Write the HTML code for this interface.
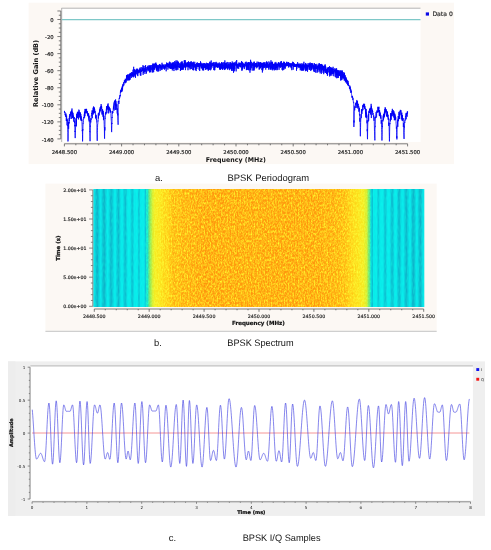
<!DOCTYPE html>
<html lang="en"><head><meta charset="utf-8"><title>BPSK plots</title>
<style>html,body{margin:0;padding:0;background:#fff}svg{display:block}</style></head>
<body>
<svg width="491" height="550" viewBox="0 0 491 550" text-rendering="geometricPrecision">
<rect x="28.6" y="2.7" width="425.4" height="161.4" fill="#fcf8f4"/>
<rect x="62" y="8.5" width="358.5" height="133.5" fill="#ffffff"/>
<path d="M61.5 8.2H420.5M61.7 8V142" stroke="#b4b4b4" stroke-width="1" fill="none"/>
<path d="M62 19.6H420.5" stroke="#7ec8c8" stroke-width="1.1"/>
<path d="M60.8 10.97V138.92M60.8 10.97h-3.4M60.8 15.23h-2M60.8 19.5h-3.4M60.8 23.77h-2M60.8 28.03h-2M60.8 32.3h-2M60.8 36.56h-3.4M60.8 40.83h-2M60.8 45.09h-2M60.8 49.36h-2M60.8 53.62h-3.4M60.8 57.88h-2M60.8 62.15h-2M60.8 66.41h-2M60.8 70.68h-3.4M60.8 74.94h-2M60.8 79.21h-2M60.8 83.47h-2M60.8 87.74h-3.4M60.8 92h-2M60.8 96.27h-2M60.8 100.53h-2M60.8 104.8h-3.4M60.8 109.06h-2M60.8 113.33h-2M60.8 117.59h-2M60.8 121.86h-3.4M60.8 126.12h-2M60.8 130.39h-2M60.8 134.66h-2M60.8 138.92h-3.4" stroke="#5a5a5a" stroke-width="0.8" fill="none"/>
<text x="53.7" y="22.1" font-family='"DejaVu Sans","Liberation Sans",sans-serif' font-size="5.3" text-anchor="end" fill="#2a2a2a" stroke="#2a2a2a" stroke-width="0.18">0</text>
<text x="53.7" y="39.16" font-family='"DejaVu Sans","Liberation Sans",sans-serif' font-size="5.3" text-anchor="end" fill="#2a2a2a" stroke="#2a2a2a" stroke-width="0.18">-20</text>
<text x="53.7" y="56.22" font-family='"DejaVu Sans","Liberation Sans",sans-serif' font-size="5.3" text-anchor="end" fill="#2a2a2a" stroke="#2a2a2a" stroke-width="0.18">-40</text>
<text x="53.7" y="73.28" font-family='"DejaVu Sans","Liberation Sans",sans-serif' font-size="5.3" text-anchor="end" fill="#2a2a2a" stroke="#2a2a2a" stroke-width="0.18">-60</text>
<text x="53.7" y="90.34" font-family='"DejaVu Sans","Liberation Sans",sans-serif' font-size="5.3" text-anchor="end" fill="#2a2a2a" stroke="#2a2a2a" stroke-width="0.18">-80</text>
<text x="53.7" y="107.4" font-family='"DejaVu Sans","Liberation Sans",sans-serif' font-size="5.3" text-anchor="end" fill="#2a2a2a" stroke="#2a2a2a" stroke-width="0.18">-100</text>
<text x="53.7" y="124.46" font-family='"DejaVu Sans","Liberation Sans",sans-serif' font-size="5.3" text-anchor="end" fill="#2a2a2a" stroke="#2a2a2a" stroke-width="0.18">-120</text>
<text x="53.7" y="141.52" font-family='"DejaVu Sans","Liberation Sans",sans-serif' font-size="5.3" text-anchor="end" fill="#2a2a2a" stroke="#2a2a2a" stroke-width="0.18">-140</text>
<path d="M64.4 143.8H407.6M64.4 143.8v2.6M75.84 143.8v1.5M87.28 143.8v1.5M98.72 143.8v1.5M110.16 143.8v1.5M121.6 143.8v2.6M133.04 143.8v1.5M144.48 143.8v1.5M155.92 143.8v1.5M167.36 143.8v1.5M178.8 143.8v2.6M190.24 143.8v1.5M201.68 143.8v1.5M213.12 143.8v1.5M224.56 143.8v1.5M236 143.8v2.6M247.44 143.8v1.5M258.88 143.8v1.5M270.32 143.8v1.5M281.76 143.8v1.5M293.2 143.8v2.6M304.64 143.8v1.5M316.08 143.8v1.5M327.52 143.8v1.5M338.96 143.8v1.5M350.4 143.8v2.6M361.84 143.8v1.5M373.28 143.8v1.5M384.72 143.8v1.5M396.16 143.8v1.5M407.6 143.8v2.6" stroke="#5a5a5a" stroke-width="0.8" fill="none"/>
<text x="64.4" y="154.4" font-family='"DejaVu Sans","Liberation Sans",sans-serif' font-size="5.3" text-anchor="middle" fill="#2a2a2a" stroke="#2a2a2a" stroke-width="0.18">2448.500</text>
<text x="121.6" y="154.4" font-family='"DejaVu Sans","Liberation Sans",sans-serif' font-size="5.3" text-anchor="middle" fill="#2a2a2a" stroke="#2a2a2a" stroke-width="0.18">2449.000</text>
<text x="178.8" y="154.4" font-family='"DejaVu Sans","Liberation Sans",sans-serif' font-size="5.3" text-anchor="middle" fill="#2a2a2a" stroke="#2a2a2a" stroke-width="0.18">2449.500</text>
<text x="236" y="154.4" font-family='"DejaVu Sans","Liberation Sans",sans-serif' font-size="5.3" text-anchor="middle" fill="#2a2a2a" stroke="#2a2a2a" stroke-width="0.18">2450.000</text>
<text x="293.2" y="154.4" font-family='"DejaVu Sans","Liberation Sans",sans-serif' font-size="5.3" text-anchor="middle" fill="#2a2a2a" stroke="#2a2a2a" stroke-width="0.18">2450.500</text>
<text x="350.4" y="154.4" font-family='"DejaVu Sans","Liberation Sans",sans-serif' font-size="5.3" text-anchor="middle" fill="#2a2a2a" stroke="#2a2a2a" stroke-width="0.18">2451.000</text>
<text x="407.6" y="154.4" font-family='"DejaVu Sans","Liberation Sans",sans-serif' font-size="5.3" text-anchor="middle" fill="#2a2a2a" stroke="#2a2a2a" stroke-width="0.18">2451.500</text>
<text x="235.8" y="162.4" font-family='"DejaVu Sans","Liberation Sans",sans-serif' font-size="6.5" text-anchor="middle" font-weight="bold" fill="#151515" textLength="60" lengthAdjust="spacingAndGlyphs">Frequency (MHz)</text>
<text x="38.4" y="73.4" font-family='"DejaVu Sans","Liberation Sans",sans-serif' font-size="6.6" text-anchor="middle" font-weight="bold" fill="#151515" transform="rotate(-90 38.4 73.4)" textLength="67" lengthAdjust="spacingAndGlyphs">Relative Gain (dB)</text>
<rect x="425.8" y="12.4" width="3.2" height="3.2" fill="#0a0ae6"/>
<text x="432.4" y="16.2" font-family='"DejaVu Sans","Liberation Sans",sans-serif' font-size="6.1" text-anchor="start" fill="#2a2a2a" stroke="#2a2a2a" stroke-width="0.18">Data 0</text>
<polyline fill="none" stroke="#0000f8" stroke-width="0.8" stroke-linejoin="round" points="64.4,112.4 64.5,110.92 64.6,112.4 64.7,113.1 64.8,113.04 64.9,112.01 65.01,112.48 65.11,114.84 65.21,114.17 65.31,114.87 65.41,115.73 65.51,113.71 65.61,116.18 65.71,117.03 65.81,116 65.91,114.97 66.02,113.58 66.12,115.74 66.22,117.56 66.32,120.96 66.42,118.51 66.52,117.16 66.62,115.52 66.72,119.32 66.82,118.75 66.92,120.75 67.03,118.87 67.13,125.04 67.23,119.83 67.33,125.93 67.43,125.17 67.53,125.2 67.63,125.86 67.73,129.71 67.83,132.74 67.93,141.4 68.03,141.4 68.14,139.93 68.24,133.2 68.34,125.33 68.44,125.2 68.54,122.47 68.64,128.83 68.74,122.06 68.84,123.49 68.94,121.53 69.04,123.36 69.15,118.09 69.25,121.09 69.35,117.04 69.45,116.1 69.55,117.42 69.65,114.14 69.75,114.85 69.85,115.67 69.95,118.93 70.05,115.74 70.16,114.89 70.26,114.4 70.36,116.35 70.46,112.3 70.56,114.95 70.66,113.77 70.76,114.74 70.86,112.59 70.96,111.36 71.06,113.03 71.17,112.48 71.27,111.58 71.37,111.45 71.47,111.38 71.57,110.47 71.67,118.89 71.77,112.56 71.87,113.59 71.97,108.49 72.07,112.77 72.17,111.75 72.28,111.66 72.38,113.55 72.48,114.02 72.58,118.03 72.68,112.33 72.78,114.76 72.88,117.58 72.98,113.19 73.08,114.6 73.18,117.14 73.29,115.98 73.39,115.7 73.49,116.08 73.59,116.68 73.69,119.1 73.79,121.72 73.89,117.55 73.99,117.24 74.09,119.01 74.19,117.24 74.3,119.69 74.4,121.31 74.5,123.11 74.6,120.99 74.7,126.28 74.8,124.84 74.9,131.84 75,130.9 75.1,135.65 75.2,138.1 75.3,133.94 75.41,132.19 75.51,130.12 75.61,124.87 75.71,125.9 75.81,122.69 75.91,122.2 76.01,118.44 76.11,120.68 76.21,124.39 76.31,118.42 76.42,126.39 76.52,116.01 76.62,116.14 76.72,117.52 76.82,114.09 76.92,118.11 77.02,113.57 77.12,116.81 77.22,118.06 77.32,112.62 77.43,113.3 77.53,112.99 77.63,112.04 77.73,113.11 77.83,117.3 77.93,112.73 78.03,112.1 78.13,111.46 78.23,115.1 78.33,111.98 78.43,119.4 78.54,113.84 78.64,113.99 78.74,114.85 78.84,109.64 78.94,110.13 79.04,110.96 79.14,111.25 79.24,110.94 79.34,110.66 79.44,117.48 79.55,112.83 79.65,113.67 79.75,113.08 79.85,112 79.95,114.28 80.05,112.43 80.15,114.35 80.25,115.25 80.35,113.19 80.45,119.52 80.56,114.66 80.66,114.92 80.76,115.51 80.86,114.2 80.96,116.96 81.06,116.51 81.16,120.92 81.26,116.49 81.36,120.19 81.46,119.37 81.57,120.92 81.67,118.7 81.77,120.81 81.87,119.67 81.97,122.04 82.07,124.94 82.17,126.89 82.27,131.1 82.37,130.05 82.47,134.41 82.57,141.4 82.68,138.36 82.78,129.11 82.88,130.47 82.98,126.04 83.08,123.25 83.18,123.78 83.28,121.93 83.38,122.09 83.48,120.71 83.58,118.47 83.69,117.01 83.79,117.37 83.89,118.43 83.99,118.53 84.09,116.01 84.19,114.59 84.29,115.18 84.39,114.84 84.49,111.59 84.59,117.61 84.7,112.79 84.8,115.15 84.9,116.05 85,108.95 85.1,112.95 85.2,113.11 85.3,112.38 85.4,113.07 85.5,109.05 85.6,111.87 85.7,112.92 85.81,113.25 85.91,113.01 86.01,111.56 86.11,109.35 86.21,108.79 86.31,112.82 86.41,109.24 86.51,110 86.61,109.25 86.71,112.52 86.82,113.13 86.92,112.47 87.02,110.96 87.12,111.29 87.22,111.15 87.32,114.12 87.42,112.62 87.52,111.59 87.62,115.29 87.72,113.56 87.83,116.11 87.93,116.21 88.03,115 88.13,113.86 88.23,115.95 88.33,116.52 88.43,113.43 88.53,116.51 88.63,113.66 88.73,118.41 88.83,115.67 88.94,120.34 89.04,118.55 89.14,115.82 89.24,121.55 89.34,119.85 89.44,123.84 89.54,123.84 89.64,127.15 89.74,132.1 89.84,131.41 89.95,136.28 90.05,141.19 90.15,133.06 90.25,132.95 90.35,126.15 90.45,126.67 90.55,124.22 90.65,119.71 90.75,122.46 90.85,118.16 90.96,118.02 91.06,120.01 91.16,119.14 91.26,115.97 91.36,115.21 91.46,115.63 91.56,115.69 91.66,112.92 91.76,114.17 91.86,113.74 91.97,113.58 92.07,110.4 92.17,112.37 92.27,116.87 92.37,118.21 92.47,113.34 92.57,112.29 92.67,110.57 92.77,112.09 92.87,111.7 92.97,112.61 93.08,112.34 93.18,107.66 93.28,114.51 93.38,108.06 93.48,109.98 93.58,106.44 93.68,112.99 93.78,111.64 93.88,109.08 93.98,113.46 94.09,107.18 94.19,109.15 94.29,111.68 94.39,107.91 94.49,112.44 94.59,110.21 94.69,109.43 94.79,109.7 94.89,111.85 94.99,112.85 95.1,111.03 95.2,111.46 95.3,112.44 95.4,112.51 95.5,113.03 95.6,118.51 95.7,115.64 95.8,115.45 95.9,114.72 96,116.05 96.1,117.82 96.21,115.36 96.31,116.52 96.41,119.74 96.51,118.71 96.61,122.66 96.71,123.38 96.81,123.57 96.91,124.43 97.01,133.49 97.11,134.73 97.22,140.8 97.32,132.59 97.42,130.57 97.52,127.59 97.62,125.08 97.72,123.8 97.82,123.56 97.92,120.6 98.02,121.32 98.12,120.66 98.23,115.47 98.33,113.27 98.43,118.51 98.53,116.74 98.63,114.58 98.73,113.99 98.83,112.74 98.93,112.63 99.03,113.1 99.13,113.98 99.23,114.65 99.34,115.38 99.44,111.65 99.54,109.42 99.64,112.73 99.74,112.73 99.84,110.75 99.94,111.61 100.04,108.65 100.14,109.67 100.24,107.11 100.35,108.63 100.45,107.86 100.55,110.82 100.65,111.02 100.75,106.44 100.85,106.29 100.95,107.8 101.05,105.36 101.15,104.08 101.25,108.78 101.36,108.05 101.46,108.71 101.56,105.83 101.66,107 101.76,107.17 101.86,111.27 101.96,114.53 102.06,109.32 102.16,109.16 102.26,110.07 102.37,113.06 102.47,112.26 102.57,109.44 102.67,112.43 102.77,113.63 102.87,110.85 102.97,116.75 103.07,110.83 103.17,114.64 103.27,112.81 103.37,114.33 103.48,120.12 103.58,114.85 103.68,118.95 103.78,117.25 103.88,115.85 103.98,118.38 104.08,121.1 104.18,124.25 104.28,127.3 104.38,128.3 104.49,136.86 104.59,138.66 104.69,129.51 104.79,127.12 104.89,130.48 104.99,120.92 105.09,118.37 105.19,118.36 105.29,118.86 105.39,113.38 105.5,114.54 105.6,112.25 105.7,112.49 105.8,112.34 105.9,111.96 106,114.31 106.1,111.87 106.2,111.98 106.3,109.68 106.4,110.2 106.5,106.13 106.61,109.87 106.71,108.15 106.81,111.43 106.91,113.19 107.01,110.04 107.11,108.91 107.21,106.47 107.31,107.4 107.41,108.56 107.51,104.6 107.62,104.9 107.72,107.37 107.82,107.68 107.92,106.14 108.02,109.63 108.12,103.43 108.22,109.61 108.32,106.58 108.42,106.07 108.52,109.36 108.63,113.38 108.73,109.38 108.83,107.14 108.93,106.74 109.03,106.65 109.13,107.61 109.23,109.95 109.33,107.87 109.43,107.26 109.53,108.7 109.63,109.58 109.74,110.56 109.84,110.02 109.94,108.17 110.04,109.93 110.14,109.87 110.24,112.55 110.34,109.89 110.44,111.77 110.54,110.75 110.64,112.28 110.75,111.09 110.85,111.94 110.95,113.69 111.05,116.94 111.15,118.04 111.25,120.55 111.35,121.48 111.45,125.47 111.55,131.27 111.65,132.11 111.76,128.76 111.86,123.01 111.96,123.94 112.06,117.05 112.16,117.99 112.26,114.56 112.36,111.03 112.46,113.4 112.56,113.14 112.66,112.27 112.77,113.08 112.87,111.95 112.97,112.18 113.07,111.36 113.17,111.14 113.27,108.25 113.37,108.3 113.47,106.33 113.57,109.17 113.67,106.77 113.77,104.86 113.88,104.72 113.98,105.35 114.08,102.42 114.18,110.51 114.28,105.41 114.38,101.36 114.48,100.71 114.58,102.15 114.68,101.57 114.78,101.84 114.89,101.03 114.99,102.55 115.09,100.84 115.19,100.48 115.29,104.57 115.39,100.62 115.49,109.95 115.59,99.41 115.69,106.13 115.79,102.83 115.9,102.42 116,101.24 116.1,103.6 116.2,103.43 116.3,105.23 116.4,106 116.5,105.27 116.6,105.68 116.7,109.69 116.8,103.86 116.9,104.32 117.01,104.77 117.11,107.5 117.21,113.55 117.31,108.47 117.41,110.51 117.51,112.11 117.61,112.82 117.71,115.39 117.81,113.42 117.91,120.5 118.02,122.34 118.12,124.75 118.22,101.46 118.32,102.26 118.42,101.38 118.52,101.29 118.62,101.3 118.72,101.82 118.82,100.91 118.92,103.97 119.03,99.19 119.13,98.44 119.23,98.32 119.33,97.88 119.43,99 119.53,98.77 119.63,96.53 119.73,97.53 119.83,97.33 119.93,95.51 120.03,96.12 120.14,95.04 120.24,96.21 120.34,92.84 120.44,91.47 120.54,92.41 120.64,90.19 120.74,92.57 120.84,90.86 120.94,91.39 121.04,91.87 121.15,89.45 121.25,91.75 121.35,91.63 121.45,89.3 121.55,88.02 121.65,91.14 121.75,91.11 121.85,89.52 121.95,89.01 122.05,87.3 122.16,91.48 122.26,86.44 122.36,87.4 122.46,85.83 122.56,89.6 122.66,85.46 122.76,87.17 122.86,84.29 122.96,83.94 123.06,85.14 123.17,86.04 123.27,85.18 123.37,84.94 123.47,83.2 123.57,83.35 123.67,82.26 123.77,83.28 123.87,85.38 123.97,84.63 124.07,82.69 124.17,82.12 124.28,82.6 124.38,80.31 124.48,82.1 124.58,81.4 124.68,81.8 124.78,82.04 124.88,82.48 124.98,80.38 125.08,81.33 125.18,81.93 125.29,78.77 125.39,83.23 125.49,82.47 125.59,79.42 125.69,80.35 125.79,79.26 125.89,79.97 125.99,79.23 126.09,79.99 126.19,82.47 126.3,78.85 126.4,79.18 126.5,75.27 126.6,78.94 126.7,75.73 126.8,79.06 126.9,79.5 127,75.42 127.1,80.77 127.2,80.34 127.3,78.68 127.41,74.64 127.51,75.93 127.61,77.13 127.71,74.73 127.81,79.33 127.91,80.07 128.01,78.12 128.11,76.94 128.21,76.23 128.31,77.29 128.42,80.31 128.52,78.16 128.62,80.17 128.72,74.46 128.82,77.43 128.92,75.72 129.02,78.55 129.12,80 129.22,74.61 129.32,73.99 129.43,80.33 129.53,76.31 129.63,75.51 129.73,73.63 129.83,76.17 129.93,76.45 130.03,74.03 130.13,75.49 130.23,79.65 130.33,72.87 130.43,75.44 130.54,74.92 130.64,74.13 130.74,75.13 130.84,73.48 130.94,74.39 131.04,74.24 131.14,73.99 131.24,74.33 131.34,78.01 131.44,77.32 131.55,72.16 131.65,73.09 131.75,73.58 131.85,75.87 131.95,74.28 132.05,74.25 132.15,73.99 132.25,72.33 132.35,72.19 132.45,76.62 132.56,72.69 132.66,75.31 132.76,74.46 132.86,76.2 132.96,75.11 133.06,69.66 133.16,73.41 133.26,77.36 133.36,74.67 133.46,70.61 133.57,68.77 133.67,66.79 133.77,74.9 133.87,76.76 133.97,73.61 134.07,74.89 134.17,73.16 134.27,75.15 134.37,74.62 134.47,72.95 134.57,69.73 134.68,72.34 134.78,68.96 134.88,76.35 134.98,74.92 135.08,72.19 135.18,70.63 135.28,71.22 135.38,71.89 135.48,77.88 135.58,71.7 135.69,73.69 135.79,70.08 135.89,71.07 135.99,73.91 136.09,73.3 136.19,74.26 136.29,72.4 136.39,70.79 136.49,69.75 136.59,72.6 136.7,68.68 136.8,69.64 136.9,71.58 137,69.34 137.1,71.36 137.2,69.69 137.3,75.24 137.4,73.6 137.5,68.76 137.6,71.31 137.7,70.96 137.81,76.13 137.91,73.72 138.01,71.43 138.11,71.4 138.21,71.06 138.31,70.79 138.41,70.1 138.51,70.39 138.61,73.26 138.71,71.34 138.82,72.45 138.92,69.97 139.02,71.18 139.12,69.12 139.22,68.85 139.32,69.95 139.42,69.63 139.52,72.57 139.62,70.79 139.72,70.86 139.83,67.78 139.93,67.7 140.03,70.05 140.13,70.82 140.23,73.95 140.33,75.43 140.43,70.68 140.53,71.37 140.63,68.67 140.73,70.58 140.83,75.76 140.94,72.61 141.04,70.21 141.14,67.04 141.24,69.95 141.34,71.19 141.44,70.39 141.54,70.59 141.64,71.96 141.74,71.06 141.84,69.89 141.95,70.73 142.05,70.87 142.15,68.6 142.25,67.63 142.35,70.92 142.45,68.9 142.55,68.02 142.65,70.01 142.75,69.23 142.85,70.83 142.96,65.19 143.06,68.17 143.16,74.85 143.26,68.73 143.36,71.14 143.46,73.01 143.56,72.17 143.66,70.45 143.76,68.36 143.86,65.87 143.97,70.19 144.07,69.25 144.17,69.85 144.27,68.04 144.37,70.79 144.47,69.72 144.57,70.14 144.67,72.15 144.77,70.09 144.87,70.88 144.97,73.98 145.08,69.44 145.18,66.05 145.28,69.96 145.38,68.3 145.48,71.57 145.58,65.07 145.68,67.46 145.78,67.14 145.88,68.07 145.98,69.24 146.09,70.32 146.19,69.66 146.29,69.93 146.39,69.11 146.49,73.6 146.59,70.16 146.69,67.52 146.79,67.39 146.89,67.09 146.99,68.29 147.1,68.26 147.2,69.47 147.3,67.48 147.4,68.3 147.5,67.77 147.6,69.24 147.7,66.2 147.8,69.14 147.9,71.33 148,69.26 148.1,69.53 148.21,65.43 148.31,70.15 148.41,68.16 148.51,67.3 148.61,69.62 148.71,68.6 148.81,68.55 148.91,68.12 149.01,71.03 149.11,67.81 149.22,65.65 149.32,68.51 149.42,68.17 149.52,72.27 149.62,67.02 149.72,72.29 149.82,65.32 149.92,71.59 150.02,66.27 150.12,66.65 150.23,66.46 150.33,65.2 150.43,70.7 150.53,72.23 150.63,67.39 150.73,67.57 150.83,66.44 150.93,68.32 151.03,69.37 151.13,67.93 151.23,66.87 151.34,66.14 151.44,65.2 151.54,65.95 151.64,65.77 151.74,69.73 151.84,69.93 151.94,67.62 152.04,67.46 152.14,72.38 152.24,68.4 152.35,70.86 152.45,64.56 152.55,69.4 152.65,67.1 152.75,69.36 152.85,72.47 152.95,63.45 153.05,67.34 153.15,68.52 153.25,64.4 153.36,67.17 153.46,66.21 153.56,63.82 153.66,72.12 153.76,65.22 153.86,68.82 153.96,66.86 154.06,66.46 154.16,67.22 154.26,69.48 154.37,66.91 154.47,69.61 154.57,64.09 154.67,68.93 154.77,67.53 154.87,66.17 154.97,63.59 155.07,66.91 155.17,66.91 155.27,62.97 155.37,64.23 155.48,63.26 155.58,63.3 155.68,67.82 155.78,63.77 155.88,62.57 155.98,64.61 156.08,64.45 156.18,68.08 156.28,69.75 156.38,63.87 156.49,70.73 156.59,64.15 156.69,65.85 156.79,65.47 156.89,66.81 156.99,65.01 157.09,70.24 157.19,65.94 157.29,71.57 157.39,69.23 157.5,65.91 157.6,65.75 157.7,68.95 157.8,65.66 157.9,68.29 158,66.19 158.1,66.5 158.2,68.22 158.3,64.96 158.4,71.35 158.5,67.81 158.61,69.54 158.71,67.34 158.81,71.3 158.91,67.59 159.01,66.99 159.11,67.12 159.21,65.53 159.31,67.37 159.41,63.97 159.51,66.81 159.62,64.87 159.72,66.9 159.82,68.36 159.92,65.39 160.02,64.42 160.12,67.6 160.22,70.84 160.32,65.73 160.42,66.24 160.52,66.29 160.63,64.83 160.73,67.24 160.83,66.57 160.93,65.52 161.03,68.33 161.13,67.06 161.23,68.77 161.33,65.66 161.43,67.71 161.53,67.39 161.63,67.68 161.74,70.08 161.84,67.19 161.94,62.86 162.04,62.75 162.14,65.81 162.24,69.46 162.34,68.58 162.44,64.68 162.54,66.16 162.64,65.39 162.75,67.34 162.85,65.87 162.95,64.46 163.05,65.26 163.15,67.27 163.25,65.45 163.35,66.56 163.45,65.94 163.55,65.47 163.65,67.83 163.76,68.83 163.86,66.35 163.96,64.51 164.06,66.21 164.16,68.29 164.26,65.92 164.36,67.11 164.46,69.7 164.56,68 164.66,66.26 164.77,66.3 164.87,68.35 164.97,65.18 165.07,64.38 165.17,65.59 165.27,66.83 165.37,65.47 165.47,64.9 165.57,65.15 165.67,66.77 165.77,68.56 165.88,64.58 165.98,64.84 166.08,67.3 166.18,71.31 166.28,68.1 166.38,65.15 166.48,65.35 166.58,66.15 166.68,62.48 166.78,66 166.89,63.44 166.99,63.56 167.09,65.22 167.19,66.78 167.29,63.71 167.39,65.16 167.49,65.14 167.59,63.47 167.69,66.93 167.79,63.62 167.9,69.64 168,67.95 168.1,63.76 168.2,67.09 168.3,64.2 168.4,66.36 168.5,65.62 168.6,65.34 168.7,64.87 168.8,67.54 168.9,66.45 169.01,62.55 169.11,65.75 169.21,68.08 169.31,67.36 169.41,65.14 169.51,63.19 169.61,61.61 169.71,67.57 169.81,66.14 169.91,62.77 170.02,65.64 170.12,68.64 170.22,67.52 170.32,68.67 170.42,67.61 170.52,66.93 170.62,67.17 170.72,62.38 170.82,68.12 170.92,68.93 171.03,64.65 171.13,64.3 171.23,65.93 171.33,67.86 171.43,67.27 171.53,63.87 171.63,68.37 171.73,65.1 171.83,63.53 171.93,69.02 172.03,67.86 172.14,63.96 172.24,62.95 172.34,70.42 172.44,66.36 172.54,62.63 172.64,67.12 172.74,68.66 172.84,62.93 172.94,67.1 173.04,67.62 173.15,68.86 173.25,68.21 173.35,62.06 173.45,68.85 173.55,66.88 173.65,65.53 173.75,65.72 173.85,63.23 173.95,71.05 174.05,68.49 174.16,68.97 174.26,65.63 174.36,67.87 174.46,66.29 174.56,64.83 174.66,66.93 174.76,61.09 174.86,65.32 174.96,62.87 175.06,62.42 175.17,61.83 175.27,68.35 175.37,63.65 175.47,64.11 175.57,67.53 175.67,64.82 175.77,70.17 175.87,69.13 175.97,62.89 176.07,60.34 176.17,63.69 176.28,66.49 176.38,66.91 176.48,65.63 176.58,68.17 176.68,70.29 176.78,64.43 176.88,61.86 176.98,69.53 177.08,65.58 177.18,65.57 177.29,60.59 177.39,65.84 177.49,64.18 177.59,67.25 177.69,64.52 177.79,61.77 177.89,69.83 177.99,65.51 178.09,63.6 178.19,63.41 178.3,63.37 178.4,61.68 178.5,65.14 178.6,62.18 178.7,67.19 178.8,66.09 178.9,65.83 179,66.17 179.1,67.4 179.2,65.31 179.3,68.03 179.41,66.63 179.51,65.69 179.61,65.58 179.71,64.09 179.81,63.43 179.91,65.16 180.01,63.1 180.11,67.83 180.21,64.98 180.31,64.27 180.42,70.99 180.52,65.39 180.62,70.29 180.72,64.36 180.82,66.67 180.92,63.97 181.02,62.15 181.12,63.45 181.22,63.02 181.32,62.95 181.43,61.55 181.53,69.8 181.63,62.95 181.73,66.11 181.83,65.73 181.93,65.26 182.03,66.22 182.13,63.92 182.23,69.9 182.33,61.44 182.43,63.18 182.54,69.31 182.64,69.02 182.74,63.94 182.84,64.13 182.94,67.9 183.04,65.01 183.14,63.18 183.24,66.66 183.34,69.81 183.44,69.48 183.55,65.98 183.65,66.02 183.75,66.59 183.85,64.79 183.95,65.97 184.05,65.36 184.15,66.84 184.25,60.33 184.35,64.18 184.45,65.48 184.56,60.43 184.66,67.29 184.76,64.3 184.86,62.86 184.96,62.63 185.06,62.58 185.16,68.02 185.26,62.04 185.36,60.26 185.46,70.11 185.57,68.61 185.67,62.69 185.77,65.31 185.87,67.71 185.97,63.9 186.07,66.51 186.17,62.74 186.27,65.03 186.37,66.39 186.47,66.09 186.57,64.32 186.68,63.68 186.78,64.1 186.88,65.12 186.98,66.42 187.08,64.62 187.18,62.84 187.28,62.05 187.38,66.42 187.48,63.56 187.58,62.89 187.69,66.53 187.79,65.22 187.89,62.95 187.99,70.23 188.09,63.69 188.19,62.18 188.29,66.15 188.39,65.07 188.49,61.28 188.59,67.03 188.7,64.83 188.8,67.42 188.9,63.52 189,64.54 189.1,66.25 189.2,64.6 189.3,64.39 189.4,65.86 189.5,65.21 189.6,67.61 189.7,64.48 189.81,62.07 189.91,62.64 190.01,69.49 190.11,61.94 190.21,63.31 190.31,65.07 190.41,62.51 190.51,65.15 190.61,63.67 190.71,66.53 190.82,61.51 190.92,69.08 191.02,63.2 191.12,65.56 191.22,67.61 191.32,68.89 191.42,61.44 191.52,65.49 191.62,64.71 191.72,64.51 191.83,66.1 191.93,63.82 192.03,64.85 192.13,63.7 192.23,66.36 192.33,65.63 192.43,65.72 192.53,62.42 192.63,64.64 192.73,69.98 192.83,69 192.94,63.36 193.04,66.43 193.14,62.48 193.24,70.29 193.34,68.36 193.44,61.76 193.54,64.55 193.64,63.71 193.74,70.18 193.84,66.39 193.95,64.41 194.05,65.72 194.15,63.69 194.25,65.02 194.35,64.11 194.45,67.32 194.55,64.34 194.65,67.31 194.75,61.8 194.85,64.89 194.96,64.85 195.06,63.97 195.16,67.02 195.26,65.57 195.36,64.27 195.46,70.13 195.56,65.11 195.66,68.59 195.76,64.96 195.86,65.6 195.97,64.68 196.07,65.37 196.17,71.06 196.27,65.58 196.37,66.81 196.47,65.31 196.57,65.33 196.67,63.01 196.77,64.69 196.87,68.89 196.97,63.33 197.08,64.6 197.18,63.49 197.28,62.3 197.38,65.16 197.48,65.95 197.58,66.18 197.68,64.65 197.78,66.95 197.88,63.98 197.98,66.79 198.09,64.02 198.19,63.29 198.29,66.81 198.39,65.66 198.49,63.9 198.59,66.2 198.69,63.14 198.79,65.84 198.89,66.93 198.99,63.8 199.1,69.82 199.2,63.62 199.3,65.98 199.4,64.95 199.5,68.02 199.6,65.33 199.7,71.03 199.8,63.04 199.9,66.89 200,66.16 200.1,63.56 200.21,65.69 200.31,64.26 200.41,66.21 200.51,61.27 200.61,65.71 200.71,63.96 200.81,64.67 200.91,63.4 201.01,62.61 201.11,63.32 201.22,68.33 201.32,65.07 201.42,68.31 201.52,65.45 201.62,63.53 201.72,68.02 201.82,63.96 201.92,67.03 202.02,66.75 202.12,67.7 202.23,65.51 202.33,63.93 202.43,70.22 202.53,66.49 202.63,66.86 202.73,64.3 202.83,65.26 202.93,64.52 203.03,62.98 203.13,70.3 203.23,63.84 203.34,67.07 203.44,66.23 203.54,65.07 203.64,70.41 203.74,63.47 203.84,68.3 203.94,64.96 204.04,64.07 204.14,66.8 204.24,65.88 204.35,67.97 204.45,66.06 204.55,63.26 204.65,63.83 204.75,63.4 204.85,65.41 204.95,67.41 205.05,65.65 205.15,63.82 205.25,67.28 205.36,66.66 205.46,69.9 205.56,63.74 205.66,67.31 205.76,67.58 205.86,66.36 205.96,64.6 206.06,65.64 206.16,66.05 206.26,67.26 206.37,64.28 206.47,62.78 206.57,67.19 206.67,69.27 206.77,66.93 206.87,66.25 206.97,66.91 207.07,67.54 207.17,69.48 207.27,66.36 207.37,64.06 207.48,68.65 207.58,64.57 207.68,63.09 207.78,64.81 207.88,67.76 207.98,64.65 208.08,63.15 208.18,69.18 208.28,70.72 208.38,64.04 208.49,67.94 208.59,70.16 208.69,67.67 208.79,65.28 208.89,64.12 208.99,63.61 209.09,65.05 209.19,69.83 209.29,67.59 209.39,66.57 209.5,65.12 209.6,64.26 209.7,61.83 209.8,69.56 209.9,64.84 210,64.88 210.1,65.39 210.2,65.08 210.3,61.7 210.4,62.45 210.5,65.33 210.61,70.27 210.71,70.02 210.81,63.47 210.91,66.26 211.01,63.26 211.11,69.32 211.21,60.46 211.31,62.39 211.41,65.06 211.51,66.61 211.62,64.79 211.72,66.22 211.82,66.66 211.92,67 212.02,66.99 212.12,67.58 212.22,63.52 212.32,63.1 212.42,65.21 212.52,65.09 212.63,65.94 212.73,63 212.83,65 212.93,63.06 213.03,62.49 213.13,62.41 213.23,62.24 213.33,66.07 213.43,65.78 213.53,64.14 213.63,62.67 213.74,69.95 213.84,69.07 213.94,65.93 214.04,66.04 214.14,63.5 214.24,62.15 214.34,70.34 214.44,65.92 214.54,66.36 214.64,64.78 214.75,69.27 214.85,70.14 214.95,63.37 215.05,63.59 215.15,67.08 215.25,67.63 215.35,67.17 215.45,62.48 215.55,63.15 215.65,66.32 215.76,64.81 215.86,65.44 215.96,65.54 216.06,65.05 216.16,61.85 216.26,64.26 216.36,66.86 216.46,65.87 216.56,62.84 216.66,63.62 216.77,67.15 216.87,65.05 216.97,64.89 217.07,66.79 217.17,67.47 217.27,65.74 217.37,64.39 217.47,66.02 217.57,67.79 217.67,63.7 217.77,66 217.88,63.95 217.98,62.76 218.08,63.96 218.18,64.16 218.28,64.13 218.38,67.36 218.48,66.32 218.58,63.81 218.68,66.1 218.78,67.39 218.89,63.66 218.99,64.42 219.09,64.51 219.19,65.32 219.29,63.55 219.39,62.51 219.49,69.55 219.59,64.47 219.69,65.07 219.79,69.06 219.9,66 220,64.01 220.1,67.9 220.2,63.65 220.3,64.16 220.4,69.21 220.5,64.1 220.6,69.9 220.7,65.54 220.8,63.59 220.9,66.5 221.01,64.97 221.11,64.55 221.21,69.04 221.31,63.68 221.41,65.01 221.51,62.11 221.61,68.12 221.71,65.06 221.81,65.51 221.91,62.53 222.02,68.3 222.12,64.19 222.22,63.56 222.32,62.88 222.42,62.86 222.52,69.79 222.62,66.3 222.72,64.7 222.82,66.55 222.92,69.37 223.03,67.33 223.13,63.48 223.23,62.36 223.33,66.62 223.43,66.95 223.53,67 223.63,67.08 223.73,68.4 223.83,67.68 223.93,65 224.03,68.44 224.14,62.42 224.24,65.15 224.34,62.63 224.44,70.04 224.54,67.57 224.64,67.7 224.74,66.99 224.84,60.36 224.94,62.25 225.04,66.9 225.15,69.43 225.25,64.95 225.35,63.16 225.45,66.17 225.55,69.17 225.65,63.92 225.75,65.74 225.85,66.34 225.95,64.49 226.05,62.78 226.16,64.94 226.26,66.66 226.36,67.75 226.46,63.77 226.56,68.35 226.66,62.77 226.76,64.54 226.86,67.25 226.96,65.15 227.06,65.22 227.17,65.34 227.27,61.94 227.37,66.01 227.47,65.59 227.57,69.54 227.67,65.26 227.77,68.06 227.87,67.79 227.97,69.33 228.07,67.95 228.17,64.15 228.28,66.17 228.38,66.2 228.48,66.31 228.58,67.74 228.68,63.59 228.78,68.1 228.88,64.89 228.98,62.05 229.08,65.38 229.18,65.83 229.29,65.64 229.39,65.37 229.49,69.42 229.59,70.14 229.69,65.84 229.79,64.3 229.89,66.18 229.99,68.85 230.09,63.02 230.19,62.92 230.3,66.64 230.4,62.13 230.5,63.95 230.6,64.67 230.7,68.69 230.8,66.87 230.9,64.34 231,64.37 231.1,65.25 231.2,69.54 231.3,65.12 231.41,64.79 231.51,64.19 231.61,70.93 231.71,63.01 231.81,65.49 231.91,66.53 232.01,69.06 232.11,64.52 232.21,61.44 232.31,63.4 232.42,66.09 232.52,65.42 232.62,62.9 232.72,63.25 232.82,64.02 232.92,71 233.02,64.95 233.12,70.31 233.22,65.85 233.32,67.4 233.43,62.89 233.53,72.75 233.63,64.32 233.73,68.14 233.83,65.1 233.93,62.55 234.03,62.63 234.13,67.01 234.23,62.9 234.33,71.27 234.43,63.59 234.54,62.5 234.64,68.21 234.74,68.62 234.84,69.25 234.94,64.75 235.04,64.24 235.14,63.75 235.24,64.67 235.34,64.39 235.44,64.04 235.55,65.33 235.65,65.15 235.75,65.67 235.85,61.45 235.95,64.8 236.05,62.32 236.15,71.39 236.25,65.58 236.35,63.41 236.45,64.82 236.56,64.64 236.66,60 236.76,65.56 236.86,63.48 236.96,67.48 237.06,67.08 237.16,64.24 237.26,65.84 237.36,66.34 237.46,64.15 237.57,68.53 237.67,65.72 237.77,64.61 237.87,67.98 237.97,66.65 238.07,64.96 238.17,65.94 238.27,63.67 238.37,64.01 238.47,65.71 238.57,65.34 238.68,68.84 238.78,67.47 238.88,62.48 238.98,66.15 239.08,64.52 239.18,64.03 239.28,65.73 239.38,65.09 239.48,66.36 239.58,62.86 239.69,64.82 239.79,63.03 239.89,66.48 239.99,65.57 240.09,65.88 240.19,65.79 240.29,66.94 240.39,66.38 240.49,65.5 240.59,67.35 240.7,63.4 240.8,66.62 240.9,65.54 241,62.62 241.1,64.24 241.2,63.3 241.3,64.8 241.4,63.74 241.5,61.1 241.6,64.65 241.7,65.04 241.81,65.03 241.91,70.82 242.01,61.78 242.11,70.15 242.21,65.5 242.31,68.65 242.41,65.82 242.51,65.54 242.61,62.24 242.71,68.4 242.82,63.55 242.92,64.66 243.02,67.41 243.12,67.3 243.22,64.11 243.32,63.62 243.42,66.38 243.52,66.18 243.62,66.82 243.72,63.71 243.83,64.39 243.93,66.47 244.03,65.2 244.13,63.72 244.23,67.89 244.33,69.07 244.43,67.94 244.53,64.28 244.63,67.44 244.73,67.56 244.83,64.9 244.94,64.47 245.04,64.46 245.14,63.73 245.24,62.42 245.34,63.38 245.44,65.72 245.54,64.74 245.64,64.9 245.74,66.43 245.84,62.08 245.95,64.11 246.05,63.86 246.15,61.63 246.25,64.62 246.35,70.11 246.45,69.73 246.55,64.7 246.65,69.69 246.75,63.65 246.85,69.56 246.96,64.04 247.06,65.3 247.16,67.28 247.26,64.05 247.36,63.45 247.46,63.51 247.56,65.89 247.66,69.88 247.76,62.52 247.86,66.55 247.97,63.4 248.07,63.44 248.17,62.41 248.27,63.39 248.37,67.74 248.47,63.19 248.57,62 248.67,70.02 248.77,65.2 248.87,64.68 248.97,70.41 249.08,66.11 249.18,63.74 249.28,65.13 249.38,63.52 249.48,63.9 249.58,62.28 249.68,64.79 249.78,63.93 249.88,70.99 249.98,72.71 250.09,70.18 250.19,67.01 250.29,63.52 250.39,62.34 250.49,70.15 250.59,59.79 250.69,66.42 250.79,61.26 250.89,67.61 250.99,65.57 251.1,64.53 251.2,66.73 251.3,62.37 251.4,62.85 251.5,62.19 251.6,62.08 251.7,64.42 251.8,68.25 251.9,63.84 252,65.59 252.1,68.73 252.21,70.61 252.31,65.48 252.41,64.6 252.51,63.49 252.61,62.81 252.71,65.73 252.81,65.38 252.91,64.03 253.01,65.98 253.11,65.72 253.22,65.69 253.32,62.97 253.42,65.96 253.52,64.23 253.62,70.37 253.72,65.11 253.82,61.78 253.92,64.77 254.02,70.57 254.12,69.65 254.23,69.96 254.33,67.55 254.43,61.74 254.53,67.65 254.63,65.85 254.73,68.47 254.83,64.67 254.93,64.21 255.03,65.34 255.13,65.4 255.23,64.72 255.34,65.24 255.44,66.6 255.54,64.32 255.64,63.11 255.74,64.07 255.84,63.04 255.94,66.69 256.04,63.56 256.14,66.9 256.24,67.12 256.35,63.24 256.45,64.09 256.55,63.74 256.65,68.28 256.75,67.32 256.85,63.03 256.95,64.26 257.05,61.64 257.15,66.53 257.25,64.67 257.36,66.19 257.46,67.31 257.56,65 257.66,64.65 257.76,65.35 257.86,65.85 257.96,65.95 258.06,66.23 258.16,64.98 258.26,61.79 258.37,66.05 258.47,65.21 258.57,63.73 258.67,65.64 258.77,62.36 258.87,66.63 258.97,62.68 259.07,63.82 259.17,69.67 259.27,65.07 259.37,65.71 259.48,69.15 259.58,66 259.68,64.18 259.78,62.99 259.88,67.14 259.98,62.58 260.08,67.91 260.18,62.03 260.28,63.3 260.38,68.17 260.49,63.62 260.59,68.26 260.69,62.26 260.79,64.41 260.89,66.78 260.99,64.21 261.09,63.83 261.19,64.49 261.29,65.22 261.39,67.05 261.5,63.54 261.6,66.41 261.7,62.86 261.8,65.11 261.9,70.08 262,64.41 262.1,63.38 262.2,62.85 262.3,63.44 262.4,72.52 262.5,67.16 262.61,66.99 262.71,63.06 262.81,70.54 262.91,67.4 263.01,68.61 263.11,65.88 263.21,66.18 263.31,68.01 263.41,62.31 263.51,66.79 263.62,63.15 263.72,63.61 263.82,63.53 263.92,63.24 264.02,64.21 264.12,64.61 264.22,65.31 264.32,63.85 264.42,62.36 264.52,67.89 264.63,64.33 264.73,63.27 264.83,66.03 264.93,66.77 265.03,66.51 265.13,62.28 265.23,64.99 265.33,64.52 265.43,65.37 265.53,64.76 265.63,68.79 265.74,69.61 265.84,68.17 265.94,65.19 266.04,65.7 266.14,64.14 266.24,67.03 266.34,64.51 266.44,68 266.54,61.6 266.64,66.06 266.75,61.57 266.85,66.7 266.95,64.58 267.05,63.96 267.15,62.31 267.25,62.42 267.35,64.83 267.45,62.78 267.55,64.61 267.65,67.7 267.76,64.85 267.86,66.71 267.96,67.57 268.06,67.45 268.16,64.12 268.26,67.49 268.36,64.85 268.46,65.18 268.56,65.44 268.66,69.58 268.77,69.67 268.87,61.39 268.97,67.15 269.07,65.45 269.17,66.01 269.27,66.98 269.37,64.11 269.47,65.32 269.57,62.59 269.67,64.01 269.77,64.52 269.88,67.48 269.98,66.65 270.08,69.44 270.18,66.69 270.28,65.75 270.38,62.55 270.48,63.16 270.58,64.5 270.68,69.47 270.78,67.44 270.89,62.83 270.99,60.31 271.09,69.64 271.19,65.47 271.29,68.18 271.39,64.87 271.49,62.59 271.59,61.89 271.69,63.79 271.79,64.45 271.9,62.14 272,63.3 272.1,68.04 272.2,63.56 272.3,70.11 272.4,70.3 272.5,61.79 272.6,69.17 272.7,63.01 272.8,66.81 272.9,65.32 273.01,64.29 273.11,66.73 273.21,69.44 273.31,64.1 273.41,66.61 273.51,64.38 273.61,64.98 273.71,64.77 273.81,69.05 273.91,67.79 274.02,66.01 274.12,64.05 274.22,70.34 274.32,66.33 274.42,64.3 274.52,64.4 274.62,65.77 274.72,63.92 274.82,64.11 274.92,62.46 275.03,70.11 275.13,63.93 275.23,68.74 275.33,66.52 275.43,63.96 275.53,63.06 275.63,69.77 275.73,68.13 275.83,61.91 275.93,62.55 276.03,63.63 276.14,66.66 276.24,67.78 276.34,63.79 276.44,66.29 276.54,64.14 276.64,66.05 276.74,68.23 276.84,63.47 276.94,70.2 277.04,65.82 277.15,65.66 277.25,69.81 277.35,63.94 277.45,64.26 277.55,65 277.65,65.19 277.75,63.92 277.85,64.78 277.95,66.04 278.05,67.4 278.16,63.2 278.26,62.56 278.36,65.36 278.46,66.1 278.56,64.46 278.66,62.06 278.76,64.97 278.86,63.78 278.96,65.45 279.06,69.84 279.17,63.89 279.27,66.23 279.37,66.14 279.47,66.3 279.57,63.44 279.67,65.86 279.77,67.48 279.87,63.3 279.97,62.84 280.07,63.39 280.17,66.67 280.28,62.98 280.38,62.22 280.48,64.19 280.58,67.77 280.68,62.82 280.78,64.02 280.88,61.3 280.98,65.72 281.08,63.66 281.18,66.79 281.29,63.11 281.39,66.01 281.49,61.18 281.59,64.5 281.69,65.6 281.79,65.86 281.89,67.02 281.99,65.23 282.09,69.86 282.19,66.77 282.3,63.99 282.4,64.42 282.5,67.14 282.6,63.71 282.7,70.45 282.8,63.06 282.9,65.16 283,62.82 283.1,64.17 283.2,69.85 283.3,64.49 283.41,62.8 283.51,66.83 283.61,66.25 283.71,61.58 283.81,66.81 283.91,64.92 284.01,69.52 284.11,65.14 284.21,65.29 284.31,62.44 284.42,63.55 284.52,61.93 284.62,66.01 284.72,62.87 284.82,68.14 284.92,64.29 285.02,67.8 285.12,67.32 285.22,68.76 285.32,64.1 285.43,63.47 285.53,66.37 285.63,65.8 285.73,64.97 285.83,65.05 285.93,63.3 286.03,63.78 286.13,66.01 286.23,63.86 286.33,66.16 286.43,66.34 286.54,66.17 286.64,61.91 286.74,63.48 286.84,61.8 286.94,65.01 287.04,62.33 287.14,64.91 287.24,64.2 287.34,65.87 287.44,64.76 287.55,63.29 287.65,65.66 287.75,66.1 287.85,64.06 287.95,64.58 288.05,64.64 288.15,66 288.25,63.75 288.35,61.99 288.45,67.51 288.56,65.17 288.66,62.3 288.76,66.93 288.86,64.62 288.96,65.89 289.06,63.67 289.16,65.46 289.26,64.84 289.36,65.37 289.46,65.24 289.57,64.31 289.67,62.98 289.77,64.19 289.87,65.88 289.97,66.58 290.07,63.38 290.17,63 290.27,67.4 290.37,64.2 290.47,64.1 290.57,64.57 290.68,63.8 290.78,65.67 290.88,65.29 290.98,66.37 291.08,63.76 291.18,64.13 291.28,68.25 291.38,67.62 291.48,63.43 291.58,65.57 291.69,65.03 291.79,70.17 291.89,64.62 291.99,66.11 292.09,63.42 292.19,65.32 292.29,64.78 292.39,63.36 292.49,62.07 292.59,61.74 292.7,63.64 292.8,65.61 292.9,65.81 293,62.8 293.1,66.87 293.2,69.72 293.3,64.28 293.4,64.05 293.5,62.14 293.6,64.47 293.7,66.35 293.81,67.09 293.91,64.09 294.01,65.61 294.11,67 294.21,65.3 294.31,66.28 294.41,63.33 294.51,66.45 294.61,64.01 294.71,65.43 294.82,64.86 294.92,63.99 295.02,66.63 295.12,64.86 295.22,65.78 295.32,66.61 295.42,65.56 295.52,65.71 295.62,66.56 295.72,66.5 295.83,64.4 295.93,66.36 296.03,64.04 296.13,64.12 296.23,66.56 296.33,64.59 296.43,63.86 296.53,70.74 296.63,65.08 296.73,64.89 296.83,68.39 296.94,68.68 297.04,67.23 297.14,64.48 297.24,64.83 297.34,65.65 297.44,65.61 297.54,65.8 297.64,62.12 297.74,66.43 297.84,66.88 297.95,65.09 298.05,64.28 298.15,65.03 298.25,66.55 298.35,64.31 298.45,66.64 298.55,65.87 298.65,63.79 298.75,67.2 298.85,68.06 298.96,66.22 299.06,64.34 299.16,63.45 299.26,66.98 299.36,67.05 299.46,66.47 299.56,64.46 299.66,64.59 299.76,67.53 299.86,66.03 299.97,64.94 300.07,67.23 300.17,65.32 300.27,70.3 300.37,65.11 300.47,63.8 300.57,66.44 300.67,68.2 300.77,65.41 300.87,68.4 300.97,63.69 301.08,66.03 301.18,65.89 301.28,70.07 301.38,67.99 301.48,67.23 301.58,64.92 301.68,70.81 301.78,69.51 301.88,63.28 301.98,63.61 302.09,64.03 302.19,64.36 302.29,67.29 302.39,64.69 302.49,65.13 302.59,70.1 302.69,66.17 302.79,64.41 302.89,70.68 302.99,67.95 303.1,70.63 303.2,63.55 303.3,64.4 303.4,67.48 303.5,70.15 303.6,66.42 303.7,64.15 303.8,66.74 303.9,61.78 304,67.26 304.1,65.32 304.21,65.52 304.31,65.87 304.41,67.57 304.51,65.59 304.61,66.45 304.71,66.55 304.81,67.82 304.91,69.59 305.01,65.77 305.11,64.46 305.22,65.46 305.32,64.29 305.42,71.19 305.52,64.05 305.62,62.96 305.72,64.6 305.82,65.52 305.92,63.57 306.02,70.91 306.12,66.21 306.23,67.78 306.33,66.81 306.43,67.76 306.53,65.12 306.63,70.43 306.73,64.4 306.83,66.3 306.93,64.72 307.03,65.75 307.13,65.01 307.23,65.62 307.34,68.81 307.44,65.31 307.54,71.8 307.64,66.25 307.74,66.59 307.84,68.23 307.94,63.25 308.04,63.5 308.14,64.03 308.24,63.76 308.35,66.82 308.45,66.49 308.55,66.63 308.65,64.84 308.75,66.24 308.85,66.71 308.95,65.47 309.05,69.67 309.15,69.48 309.25,63.24 309.36,69.78 309.46,67.85 309.56,66.55 309.66,63.65 309.76,69.39 309.86,64.96 309.96,64.38 310.06,67.87 310.16,62.52 310.26,65.56 310.37,63.59 310.47,66.42 310.57,64.69 310.67,66.99 310.77,71.04 310.87,64.57 310.97,66.7 311.07,66.59 311.17,65.46 311.27,70.06 311.37,66.24 311.48,63 311.58,65.55 311.68,69.27 311.78,66.91 311.88,65.82 311.98,69.45 312.08,67.38 312.18,64.19 312.28,65.65 312.38,63.86 312.49,65.36 312.59,65.12 312.69,66.81 312.79,63 312.89,68.18 312.99,64.41 313.09,66.16 313.19,66.89 313.29,69.16 313.39,69.45 313.5,66.5 313.6,65.52 313.7,71.4 313.8,66.84 313.9,65.34 314,68.24 314.1,66.7 314.2,68.17 314.3,66.78 314.4,72.06 314.5,63.2 314.61,65.13 314.71,64.43 314.81,65.41 314.91,67.26 315.01,68.76 315.11,68.09 315.21,66.13 315.31,68.97 315.41,68.98 315.51,64.18 315.62,72.6 315.72,64.72 315.82,66.93 315.92,65.15 316.02,66.03 316.12,67.47 316.22,68.1 316.32,66.47 316.42,68.85 316.52,68.08 316.63,68.9 316.73,66.08 316.83,63.83 316.93,69.7 317.03,72.79 317.13,70.71 317.23,68.93 317.33,68.91 317.43,66.73 317.53,70.65 317.63,66.16 317.74,65.69 317.84,72.2 317.94,65.52 318.04,66.43 318.14,69.87 318.24,68.5 318.34,66.47 318.44,65.24 318.54,67.65 318.64,64.53 318.75,66.89 318.85,68.49 318.95,65.79 319.05,63.19 319.15,63.78 319.25,71.56 319.35,68.35 319.45,63.53 319.55,68.48 319.65,69.16 319.76,69.99 319.86,66.68 319.96,66.88 320.06,68.99 320.16,73.38 320.26,66.49 320.36,64.89 320.46,67.55 320.56,64.22 320.66,69.33 320.77,66.01 320.87,64.17 320.97,66.69 321.07,67.99 321.17,71.79 321.27,64.8 321.37,72.66 321.47,73.77 321.57,63.96 321.67,70.89 321.77,67.42 321.88,70.03 321.98,65.61 322.08,69.3 322.18,68.15 322.28,66.86 322.38,65.96 322.48,69.63 322.58,64.7 322.68,66.01 322.78,69.74 322.89,68.96 322.99,66.67 323.09,72.88 323.19,68.85 323.29,71.33 323.39,65.98 323.49,68.39 323.59,69.06 323.69,74.16 323.79,67.02 323.9,70.39 324,66.75 324.1,67.47 324.2,66.27 324.3,66.11 324.4,65.43 324.5,68.14 324.6,66.49 324.7,67.84 324.8,70.72 324.9,68.69 325.01,72.75 325.11,64.28 325.21,70.71 325.31,71.95 325.41,65.59 325.51,72.69 325.61,71.03 325.71,70.01 325.81,66.69 325.91,71.15 326.02,73 326.12,68.81 326.22,70.21 326.32,69.35 326.42,69.5 326.52,72.36 326.62,74.04 326.72,69.87 326.82,68.83 326.92,74.05 327.03,72.25 327.13,70.44 327.23,68.9 327.33,71.2 327.43,75.8 327.53,68.37 327.63,75.2 327.73,68.04 327.83,69.21 327.93,70.83 328.03,68.46 328.14,67.02 328.24,69.06 328.34,67.01 328.44,67.9 328.54,69.53 328.64,68.65 328.74,68.63 328.84,72.3 328.94,71.05 329.04,72.35 329.15,68.51 329.25,70.72 329.35,69.91 329.45,68.56 329.55,66.14 329.65,76.46 329.75,70.76 329.85,70.81 329.95,69.78 330.05,75.18 330.16,71.11 330.26,74.06 330.36,67.03 330.46,69.15 330.56,69.82 330.66,75.67 330.76,72.8 330.86,68.32 330.96,69.67 331.06,68.95 331.17,69.56 331.27,70.47 331.37,74.11 331.47,67.61 331.57,73.11 331.67,71 331.77,69.92 331.87,75.62 331.97,67.82 332.07,70.1 332.17,68.62 332.28,68.45 332.38,71.69 332.48,72.71 332.58,73.82 332.68,69.14 332.78,70.76 332.88,73.84 332.98,71.35 333.08,66.79 333.18,70.12 333.29,68.89 333.39,71.16 333.49,73.31 333.59,70.6 333.69,72.18 333.79,76.2 333.89,71.9 333.99,73.48 334.09,71.38 334.19,71.23 334.3,70.62 334.4,69.88 334.5,71.44 334.6,71.09 334.7,70.17 334.8,68.27 334.9,71.86 335,70.21 335.1,71.04 335.2,69.64 335.3,77.07 335.41,73.82 335.51,69.33 335.61,69.93 335.71,72.56 335.81,70.26 335.91,73.02 336.01,70.51 336.11,77.66 336.21,68.28 336.31,72.79 336.42,74.99 336.52,73.27 336.62,68.54 336.72,69.77 336.82,78.28 336.92,70.67 337.02,72.84 337.12,70.7 337.22,74.63 337.32,72.95 337.43,73.43 337.53,72.46 337.63,70.22 337.73,71.9 337.83,77.99 337.93,70.22 338.03,75.71 338.13,73.41 338.23,77.95 338.33,71.43 338.43,74.4 338.54,75.07 338.64,72.84 338.74,75.61 338.84,70.34 338.94,74.54 339.04,71.99 339.14,70.46 339.24,72.47 339.34,74.72 339.44,72.53 339.55,76.02 339.65,73.67 339.75,72.07 339.85,71.53 339.95,73.88 340.05,73.43 340.15,73.81 340.25,74.03 340.35,73.86 340.45,77.65 340.56,70.4 340.66,73.26 340.76,80.65 340.86,71.91 340.96,72.71 341.06,79.78 341.16,76.07 341.26,73.32 341.36,72.59 341.46,70.57 341.57,75.52 341.67,74.65 341.77,80.06 341.87,75.58 341.97,73.2 342.07,71.59 342.17,77.45 342.27,76.45 342.37,70.51 342.47,76.09 342.57,73.78 342.68,77.67 342.78,73.55 342.88,76.84 342.98,79.23 343.08,77.41 343.18,72.04 343.28,77.64 343.38,76.81 343.48,77.67 343.58,73.92 343.69,76.43 343.79,78.24 343.89,76.17 343.99,76.6 344.09,78.2 344.19,73.35 344.29,80.78 344.39,77.54 344.49,72.67 344.59,75.52 344.7,76.47 344.8,80.12 344.9,78.29 345,76.43 345.1,77.85 345.2,75.15 345.3,79.06 345.4,82.3 345.5,81.45 345.6,79.72 345.7,77.74 345.81,77.43 345.91,81.83 346.01,77.43 346.11,79.81 346.21,80.5 346.31,78.63 346.41,82.64 346.51,79.76 346.61,80.4 346.71,79.42 346.82,80.93 346.92,83.86 347.02,83 347.12,82.85 347.22,80.07 347.32,81.73 347.42,83.87 347.52,84.95 347.62,82.79 347.72,81.32 347.83,82.6 347.93,83.17 348.03,80.86 348.13,84.27 348.23,85.91 348.33,83.06 348.43,84.52 348.53,84.33 348.63,84.36 348.73,86.05 348.83,85.99 348.94,85.45 349.04,85.25 349.14,85.75 349.24,85.99 349.34,86.76 349.44,88.5 349.54,87.28 349.64,87.57 349.74,87.95 349.84,89.02 349.95,85.72 350.05,89.19 350.15,86.87 350.25,90.24 350.35,90.72 350.45,89.16 350.55,88.77 350.65,89.89 350.75,89.12 350.85,92.99 350.96,90.57 351.06,91.7 351.16,91.86 351.26,91.81 351.36,90.67 351.46,93.54 351.56,94.34 351.66,95.02 351.76,95.66 351.86,96.49 351.97,97.43 352.07,96.65 352.17,95.84 352.27,97.93 352.37,96.18 352.47,96.91 352.57,97.35 352.67,96.95 352.77,98.35 352.87,99.93 352.97,98.11 353.08,100.2 353.18,100.75 353.28,100.66 353.38,102.28 353.48,102.59 353.58,102.87 353.68,102.24 353.78,104.67 353.88,126.94 353.98,120.47 354.09,122.52 354.19,112.02 354.29,111.42 354.39,110.85 354.49,108.71 354.59,107.54 354.69,110.31 354.79,108.42 354.89,105.93 354.99,106.72 355.1,108.02 355.2,106.54 355.3,105.56 355.4,104.9 355.5,105.26 355.6,103.58 355.7,103.88 355.8,104.38 355.9,103.03 356,104.78 356.1,102.42 356.21,107.89 356.31,104.63 356.41,103.28 356.51,102.69 356.61,101.81 356.71,103.74 356.81,100.05 356.91,99.97 357.01,101.75 357.11,101.02 357.22,104.43 357.32,106.41 357.42,101.49 357.52,101.22 357.62,107.02 357.72,108.44 357.82,106.12 357.92,103.91 358.02,105.67 358.12,103.81 358.23,107.1 358.33,107.31 358.43,106.68 358.53,107.11 358.63,107.24 358.73,105.94 358.83,108.49 358.93,111.82 359.03,111.18 359.13,107.61 359.23,110.76 359.34,108.12 359.44,115.09 359.54,115.57 359.64,114.14 359.74,114.69 359.84,121.62 359.94,118.06 360.04,122.01 360.14,122.68 360.24,127.19 360.35,136.25 360.45,129.24 360.55,127.6 360.65,122.45 360.75,120.22 360.85,117.8 360.95,116.77 361.05,115.13 361.15,114.12 361.25,118.13 361.36,112.09 361.46,109.54 361.56,110.8 361.66,112.51 361.76,109.26 361.86,114.03 361.96,109.8 362.06,110.15 362.16,110.48 362.26,110.79 362.37,109.31 362.47,108.44 362.57,108.48 362.67,107.73 362.77,105.4 362.87,108.86 362.97,110.16 363.07,105.18 363.17,106.73 363.27,105.97 363.37,104.08 363.48,104.57 363.58,106.95 363.68,104.5 363.78,106.33 363.88,105.64 363.98,103.58 364.08,106.24 364.18,104.7 364.28,107.27 364.38,105.77 364.49,108.13 364.59,104.18 364.69,108.95 364.79,108.98 364.89,106.11 364.99,106.14 365.09,107.91 365.19,109.25 365.29,109.1 365.39,108.76 365.5,113.39 365.6,108.66 365.7,117.26 365.8,112.6 365.9,113.93 366,114.3 366.1,112 366.2,109.03 366.3,118.08 366.4,112.52 366.5,116.15 366.61,114.47 366.71,116.71 366.81,115.53 366.91,116.71 367.01,123.31 367.11,120.31 367.21,131.26 367.31,129.1 367.41,137.9 367.51,139.18 367.62,131.19 367.72,126.1 367.82,123.06 367.92,120.67 368.02,121.66 368.12,119.74 368.22,116.2 368.32,116.27 368.42,113.55 368.52,113.63 368.63,120.87 368.73,117.36 368.83,114 368.93,111.3 369.03,112.98 369.13,110.61 369.23,111.23 369.33,112.48 369.43,111.75 369.53,112.9 369.63,108.94 369.74,110.29 369.84,108.71 369.94,110.21 370.04,111.7 370.14,110.82 370.24,107.86 370.34,108.57 370.44,114.51 370.54,108.55 370.64,109.61 370.75,107.98 370.85,108.52 370.95,106.92 371.05,105.85 371.15,103.85 371.25,110 371.35,118.06 371.45,105.83 371.55,108.45 371.65,108.53 371.76,108.54 371.86,109.02 371.96,108.83 372.06,108.7 372.16,109.73 372.26,111.54 372.36,109.82 372.46,109.79 372.56,112.61 372.66,111.04 372.77,114.89 372.87,114.44 372.97,114.18 373.07,113.08 373.17,114.52 373.27,114.55 373.37,115.15 373.47,117.21 373.57,117.1 373.67,116.82 373.77,115.43 373.88,119.29 373.98,120.73 374.08,117.1 374.18,117.8 374.28,121.32 374.38,126.2 374.48,131.23 374.58,131.87 374.68,135.9 374.78,138.52 374.89,140.36 374.99,129.76 375.09,126.36 375.19,127.08 375.29,124.76 375.39,116.77 375.49,118.15 375.59,117.74 375.69,118.06 375.79,115.51 375.9,114.05 376,113.3 376.1,111.98 376.2,112.2 376.3,116.57 376.4,117.54 376.5,117.32 376.6,116.9 376.7,112.94 376.8,111.71 376.9,110.57 377.01,111.24 377.11,112.07 377.21,111.64 377.31,110.86 377.41,112.21 377.51,110.93 377.61,111.18 377.71,112.65 377.81,106.82 377.91,107.3 378.02,109.09 378.12,109.56 378.22,111.84 378.32,107.28 378.42,112.09 378.52,108.92 378.62,107.54 378.72,108.76 378.82,108.34 378.92,106.74 379.03,110.27 379.13,112.57 379.23,112.27 379.33,115.75 379.43,109.99 379.53,115.91 379.63,110.5 379.73,116.14 379.83,111.96 379.93,113.14 380.03,114.96 380.14,115.88 380.24,114.04 380.34,113.25 380.44,117.39 380.54,114.86 380.64,114.95 380.74,118.51 380.84,115.27 380.94,118.3 381.04,117.79 381.15,118.25 381.25,123.86 381.35,120.16 381.45,123.36 381.55,127.37 381.65,129.38 381.75,132.5 381.85,135.79 381.95,140.53 382.05,136.71 382.16,134.59 382.26,129.49 382.36,126.31 382.46,127.08 382.56,122.3 382.66,122.04 382.76,119.91 382.86,121.31 382.96,120.39 383.06,117.03 383.17,115.64 383.27,115.52 383.37,120.1 383.47,114.59 383.57,115.63 383.67,116.21 383.77,114.36 383.87,118.26 383.97,114.36 384.07,116.86 384.17,113.53 384.28,114.68 384.38,112.29 384.48,116.47 384.58,111.33 384.68,115.39 384.78,109.73 384.88,108.97 384.98,113.52 385.08,111.97 385.18,107.21 385.29,111.41 385.39,109.48 385.49,108.25 385.59,110.85 385.69,112.35 385.79,109.23 385.89,109.48 385.99,109.43 386.09,109.26 386.19,111.9 386.3,109.59 386.4,110.35 386.5,112.18 386.6,111.16 386.7,116.2 386.8,114.41 386.9,116.62 387,112.76 387.1,113.29 387.2,113.46 387.3,111.69 387.41,116.66 387.51,111.7 387.61,117.31 387.71,114.59 387.81,116.1 387.91,116.66 388.01,114.83 388.11,117.07 388.21,119.78 388.31,117.42 388.42,119.22 388.52,118.14 388.62,119.97 388.72,125.92 388.82,122.55 388.92,124.11 389.02,124.14 389.12,125.8 389.22,132.35 389.32,136.5 389.43,141.4 389.53,138.55 389.63,131.77 389.73,127.14 389.83,123.08 389.93,124.13 390.03,119.41 390.13,119.68 390.23,118.64 390.33,119.09 390.43,121.31 390.54,119.35 390.64,113.03 390.74,119.18 390.84,116.02 390.94,113.92 391.04,116.46 391.14,119.87 391.24,116.1 391.34,113.77 391.44,116.21 391.55,115.64 391.65,114.28 391.75,112.97 391.85,114.33 391.95,112.92 392.05,110.87 392.15,114.58 392.25,116.23 392.35,108.85 392.45,112.13 392.56,113.79 392.66,111.87 392.76,110.51 392.86,110.37 392.96,112.33 393.06,110.11 393.16,111.22 393.26,115.27 393.36,112.71 393.46,114.66 393.57,111.92 393.67,112.85 393.77,117.52 393.87,111.27 393.97,111.32 394.07,112.19 394.17,112.62 394.27,114.91 394.37,120.29 394.47,113.8 394.57,114.34 394.68,119.49 394.78,113.62 394.88,119.52 394.98,114.64 395.08,118.38 395.18,116.26 395.28,119.51 395.38,118.33 395.48,119.63 395.58,118.76 395.69,117.19 395.79,118.02 395.89,121.06 395.99,121.31 396.09,123.6 396.19,124.57 396.29,125.97 396.39,128.74 396.49,126.74 396.59,132.26 396.7,137.92 396.8,136.32 396.9,139.42 397,134.28 397.1,129.81 397.2,127.6 397.3,127.58 397.4,124.44 397.5,121.34 397.6,120.83 397.7,119.6 397.81,126.86 397.91,118.68 398.01,117.97 398.11,117.66 398.21,115.94 398.31,118.12 398.41,118.58 398.51,121.19 398.61,116.11 398.71,118.95 398.82,117.41 398.92,111.86 399.02,114.57 399.12,113.88 399.22,115.35 399.32,114.92 399.42,117.04 399.52,119.07 399.62,113.24 399.72,115.18 399.83,114.69 399.93,111.15 400.03,113.88 400.13,113.46 400.23,112.41 400.33,109.87 400.43,111.73 400.53,111.41 400.63,111.46 400.73,112.26 400.83,111.61 400.94,110.18 401.04,110.98 401.14,115.26 401.24,113.89 401.34,119.24 401.44,115.56 401.54,112.79 401.64,115.78 401.74,113.33 401.84,112.7 401.95,117.41 402.05,115.14 402.15,120.43 402.25,118.43 402.35,120.67 402.45,115.19 402.55,118.31 402.65,119.07 402.75,118.4 402.85,118.26 402.96,120.6 403.06,118.17 403.16,120.16 403.26,120.26 403.36,126.96 403.46,123.19 403.56,125.14 403.66,125.73 403.76,132.86 403.86,134.95 403.97,138.02 404.07,138.93 404.17,132.73 404.27,130.34 404.37,126.52 404.47,127.43 404.57,122.57 404.67,121.67 404.77,122.91 404.87,120.37 404.97,120.69 405.08,121.02 405.18,118.54 405.28,118.47 405.38,119.66 405.48,116.14 405.58,115.85 405.68,116.76 405.78,116.19 405.88,115.19 405.98,113.33 406.09,115.86 406.19,119.27 406.29,114.89 406.39,112.79 406.49,114 406.59,115.64 406.69,114.93 406.79,113.83 406.89,114.32 406.99,115.13 407.1,115.87 407.2,116.71 407.3,111.84 407.4,111.29 407.5,113.81 407.6,111.53"/>
<text x="155" y="180.6" font-family='"Liberation Sans","DejaVu Sans",sans-serif' font-size="9.4" text-anchor="start" fill="#161616">a.</text>
<text x="227.4" y="180.6" font-family='"Liberation Sans","DejaVu Sans",sans-serif' font-size="9.4" text-anchor="start" fill="#161616" textLength="81.8" lengthAdjust="spacingAndGlyphs">BPSK Periodogram</text>
<rect x="45.4" y="183.6" width="391.3" height="147.2" fill="#fcf8f4"/>
<rect x="45.4" y="330.8" width="391.3" height="1" fill="#c4c4c4"/>
<defs><filter id="nz" x="0" y="0" width="100%" height="100%" color-interpolation-filters="sRGB"><feTurbulence type="fractalNoise" baseFrequency="0.7 0.42" numOctaves="2" seed="4" result="t"/><feColorMatrix in="t" type="matrix" values="0 0 0 0 0  1.9 0 0 0 -0.68  0.25 0 0 0 -0.085  0 0 0 0 1" result="n0"/><feGaussianBlur in="n0" stdDeviation="0.5 0.6" result="n"/><feBlend in="SourceGraphic" in2="n" mode="screen"/></filter><clipPath id="cb"><rect x="93.3" y="189" width="331" height="118.1"/></clipPath></defs>
<defs><filter id="nzc" x="0" y="0" width="100%%" height="100%%" color-interpolation-filters="sRGB"><feTurbulence type="fractalNoise" baseFrequency="0.6 0.3" numOctaves="2" seed="9" result="t"/><feColorMatrix in="t" type="matrix" values="0 0 0 0 0  1.1 0 0 0 -0.41  0.5 0 0 0 -0.19  0 0 0 0 1" result="n0"/><feGaussianBlur in="n0" stdDeviation="0.4 0.8" result="n"/><feBlend in="SourceGraphic" in2="n" mode="screen"/></filter></defs>
<g clip-path="url(#cb)">
<clipPath id="cL"><rect x="92.3" y="189" width="53.7" height="118.1"/></clipPath>
<g clip-path="url(#cL)"><g filter="url(#nzc)"><rect x="88.3" y="185" width="61.7" height="126.1" fill="#10d8e0"/>
<rect x="93" y="185" width="1.5" height="126.1" fill="#09e4e8"/>
<rect x="94" y="185" width="1.5" height="126.1" fill="#09dfe5"/>
<rect x="95" y="185" width="1.5" height="126.1" fill="#0cc9d8"/>
<rect x="96" y="185" width="1.5" height="126.1" fill="#0db5cd"/>
<rect x="97" y="185" width="1.5" height="126.1" fill="#0eaec8"/>
<rect x="98" y="185" width="1.5" height="126.1" fill="#0dc3d5"/>
<rect x="99" y="185" width="1.5" height="126.1" fill="#0ad6e0"/>
<rect x="100" y="185" width="1.5" height="126.1" fill="#09e3e7"/>
<rect x="101" y="185" width="1.5" height="126.1" fill="#0adae3"/>
<rect x="102" y="185" width="1.5" height="126.1" fill="#0cc4d6"/>
<rect x="103" y="185" width="1.5" height="126.1" fill="#0eb3ca"/>
<rect x="104" y="185" width="1.5" height="126.1" fill="#0eaec8"/>
<rect x="105" y="185" width="1.5" height="126.1" fill="#0cc4d6"/>
<rect x="106" y="185" width="1.5" height="126.1" fill="#0ad9e2"/>
<rect x="107" y="185" width="1.5" height="126.1" fill="#08e8ea"/>
<rect x="108" y="185" width="1.5" height="126.1" fill="#09e0e5"/>
<rect x="109" y="185" width="1.5" height="126.1" fill="#0bcfdb"/>
<rect x="110" y="185" width="1.5" height="126.1" fill="#0dbacf"/>
<rect x="111" y="185" width="1.5" height="126.1" fill="#0eb5cd"/>
<rect x="112" y="185" width="1.5" height="126.1" fill="#0cc6d6"/>
<rect x="113" y="185" width="1.5" height="126.1" fill="#0ad7e1"/>
<rect x="114" y="185" width="1.5" height="126.1" fill="#08e8e9"/>
<rect x="115" y="185" width="1.5" height="126.1" fill="#08e8ea"/>
<rect x="116" y="185" width="1.5" height="126.1" fill="#0bd1de"/>
<rect x="117" y="185" width="1.5" height="126.1" fill="#0dc0d3"/>
<rect x="118" y="185" width="1.5" height="126.1" fill="#0eb4cb"/>
<rect x="119" y="185" width="1.5" height="126.1" fill="#0cc7d7"/>
<rect x="120" y="185" width="1.5" height="126.1" fill="#0adde4"/>
<rect x="121" y="185" width="1.5" height="126.1" fill="#08e8e9"/>
<rect x="122" y="185" width="1.5" height="126.1" fill="#08e8ea"/>
<rect x="123" y="185" width="1.5" height="126.1" fill="#0bd3df"/>
<rect x="124" y="185" width="1.5" height="126.1" fill="#0dc1d4"/>
<rect x="125" y="185" width="1.5" height="126.1" fill="#0db9cf"/>
<rect x="126" y="185" width="1.5" height="126.1" fill="#0ccedb"/>
<rect x="127" y="185" width="1.5" height="126.1" fill="#09e4e7"/>
<rect x="128" y="185" width="1.5" height="126.1" fill="#09eae9"/>
<rect x="129" y="185" width="1.5" height="126.1" fill="#09eae9"/>
<rect x="130" y="185" width="1.5" height="126.1" fill="#09dfe5"/>
<rect x="131" y="185" width="1.5" height="126.1" fill="#0cc7d7"/>
<rect x="132" y="185" width="1.5" height="126.1" fill="#0dbfd2"/>
<rect x="133" y="185" width="1.5" height="126.1" fill="#0bd3df"/>
<rect x="134" y="185" width="1.5" height="126.1" fill="#08e8e9"/>
<rect x="135" y="185" width="1.5" height="126.1" fill="#08e8e9"/>
<rect x="136" y="185" width="1.5" height="126.1" fill="#09eae9"/>
<rect x="137" y="185" width="1.5" height="126.1" fill="#08e5e8"/>
<rect x="138" y="185" width="1.5" height="126.1" fill="#0cc8d7"/>
<rect x="139" y="185" width="1.5" height="126.1" fill="#0ccad9"/>
<rect x="140" y="185" width="1.5" height="126.1" fill="#08e6e9"/>
<rect x="141" y="185" width="1.5" height="126.1" fill="#08e8e9"/>
<rect x="142" y="185" width="1.5" height="126.1" fill="#09eae9"/>
<rect x="143" y="185" width="1.5" height="126.1" fill="#09eae9"/>
<rect x="144" y="185" width="1.5" height="126.1" fill="#0adce3"/>
<rect x="145" y="185" width="1.5" height="126.1" fill="#0dc2d4"/>
</g></g>
<clipPath id="cR"><rect x="371" y="189" width="54.3" height="118.1"/></clipPath>
<g clip-path="url(#cR)"><g filter="url(#nzc)"><rect x="367" y="185" width="62.3" height="126.1" fill="#10d8e0"/>
<rect x="371" y="185" width="1.5" height="126.1" fill="#0ccdda"/>
<rect x="372" y="185" width="1.5" height="126.1" fill="#0dbdd2"/>
<rect x="373" y="185" width="1.5" height="126.1" fill="#08e8e9"/>
<rect x="374" y="185" width="1.5" height="126.1" fill="#08e8e9"/>
<rect x="375" y="185" width="1.5" height="126.1" fill="#09eae9"/>
<rect x="376" y="185" width="1.5" height="126.1" fill="#09eae8"/>
<rect x="377" y="185" width="1.5" height="126.1" fill="#0bd2de"/>
<rect x="378" y="185" width="1.5" height="126.1" fill="#0cc6d6"/>
<rect x="379" y="185" width="1.5" height="126.1" fill="#0adae3"/>
<rect x="380" y="185" width="1.5" height="126.1" fill="#08e8e9"/>
<rect x="381" y="185" width="1.5" height="126.1" fill="#09eae9"/>
<rect x="382" y="185" width="1.5" height="126.1" fill="#09eae9"/>
<rect x="383" y="185" width="1.5" height="126.1" fill="#09dee4"/>
<rect x="384" y="185" width="1.5" height="126.1" fill="#0cc6d6"/>
<rect x="385" y="185" width="1.5" height="126.1" fill="#0dc0d3"/>
<rect x="386" y="185" width="1.5" height="126.1" fill="#0bd5df"/>
<rect x="387" y="185" width="1.5" height="126.1" fill="#08e8ea"/>
<rect x="388" y="185" width="1.5" height="126.1" fill="#09eae9"/>
<rect x="389" y="185" width="1.5" height="126.1" fill="#08e8ea"/>
<rect x="390" y="185" width="1.5" height="126.1" fill="#0bd5e0"/>
<rect x="391" y="185" width="1.5" height="126.1" fill="#0dbfd2"/>
<rect x="392" y="185" width="1.5" height="126.1" fill="#0dbcd1"/>
<rect x="393" y="185" width="1.5" height="126.1" fill="#0ccbda"/>
<rect x="394" y="185" width="1.5" height="126.1" fill="#09e5e8"/>
<rect x="395" y="185" width="1.5" height="126.1" fill="#09eae9"/>
<rect x="396" y="185" width="1.5" height="126.1" fill="#08e6e9"/>
<rect x="397" y="185" width="1.5" height="126.1" fill="#0bcfdc"/>
<rect x="398" y="185" width="1.5" height="126.1" fill="#0dbbd0"/>
<rect x="399" y="185" width="1.5" height="126.1" fill="#0eb5cd"/>
<rect x="400" y="185" width="1.5" height="126.1" fill="#0ccbd9"/>
<rect x="401" y="185" width="1.5" height="126.1" fill="#09e0e6"/>
<rect x="402" y="185" width="1.5" height="126.1" fill="#08e8e9"/>
<rect x="403" y="185" width="1.5" height="126.1" fill="#09e4e8"/>
<rect x="404" y="185" width="1.5" height="126.1" fill="#0bd0dc"/>
<rect x="405" y="185" width="1.5" height="126.1" fill="#0dbbd1"/>
<rect x="406" y="185" width="1.5" height="126.1" fill="#0eb1c9"/>
<rect x="407" y="185" width="1.5" height="126.1" fill="#0cc6d7"/>
<rect x="408" y="185" width="1.5" height="126.1" fill="#0ad7e1"/>
<rect x="409" y="185" width="1.5" height="126.1" fill="#08e7e9"/>
<rect x="410" y="185" width="1.5" height="126.1" fill="#09e3e7"/>
<rect x="411" y="185" width="1.5" height="126.1" fill="#0bcfdb"/>
<rect x="412" y="185" width="1.5" height="126.1" fill="#0db6ce"/>
<rect x="413" y="185" width="1.5" height="126.1" fill="#0eb1ca"/>
<rect x="414" y="185" width="1.5" height="126.1" fill="#0dbfd2"/>
<rect x="415" y="185" width="1.5" height="126.1" fill="#0ad6e0"/>
<rect x="416" y="185" width="1.5" height="126.1" fill="#08e6e9"/>
<rect x="417" y="185" width="1.5" height="126.1" fill="#09e1e6"/>
<rect x="418" y="185" width="1.5" height="126.1" fill="#0ccbd9"/>
<rect x="419" y="185" width="1.5" height="126.1" fill="#0db6ce"/>
<rect x="420" y="185" width="1.5" height="126.1" fill="#0eaec8"/>
<rect x="421" y="185" width="1.5" height="126.1" fill="#0dc0d3"/>
<rect x="422" y="185" width="1.5" height="126.1" fill="#0ad7e1"/>
<rect x="423" y="185" width="1.5" height="126.1" fill="#08e5e8"/>
<rect x="424" y="185" width="1.5" height="126.1" fill="#09dee4"/>
</g></g>
<clipPath id="cM"><rect x="146" y="189" width="225" height="118.1"/></clipPath>
<g clip-path="url(#cM)"><g filter="url(#nz)"><rect x="142" y="185" width="233" height="126.1" fill="#ffa010"/>
<rect x="146" y="185" width="1.5" height="126.1" fill="#1be1ce"/>
<rect x="147" y="185" width="1.5" height="126.1" fill="#1de0cc"/>
<rect x="148" y="185" width="1.5" height="126.1" fill="#4ddd96"/>
<rect x="149" y="185" width="1.5" height="126.1" fill="#79e170"/>
<rect x="150" y="185" width="1.5" height="126.1" fill="#a1e750"/>
<rect x="151" y="185" width="1.5" height="126.1" fill="#b9e841"/>
<rect x="152" y="185" width="1.5" height="126.1" fill="#d9eb2e"/>
<rect x="153" y="185" width="1.5" height="126.1" fill="#e6eb28"/>
<rect x="154" y="185" width="1.5" height="126.1" fill="#f3eb22"/>
<rect x="155" y="185" width="1.5" height="126.1" fill="#f6e920"/>
<rect x="156" y="185" width="1.5" height="126.1" fill="#f7e81f"/>
<rect x="157" y="185" width="1.5" height="126.1" fill="#f8e51e"/>
<rect x="158" y="185" width="1.5" height="126.1" fill="#f9e51e"/>
<rect x="159" y="185" width="1.5" height="126.1" fill="#fae31d"/>
<rect x="160" y="185" width="1.5" height="126.1" fill="#fbe31c"/>
<rect x="161" y="185" width="1.5" height="126.1" fill="#fdd819"/>
<rect x="162" y="185" width="1.5" height="126.1" fill="#fcdf1b"/>
<rect x="163" y="185" width="1.5" height="126.1" fill="#fed117"/>
<rect x="164" y="185" width="1.5" height="126.1" fill="#fed418"/>
<rect x="165" y="185" width="1.5" height="126.1" fill="#ffc714"/>
<rect x="166" y="185" width="1.5" height="126.1" fill="#fed117"/>
<rect x="167" y="185" width="1.5" height="126.1" fill="#ffc715"/>
<rect x="168" y="185" width="1.5" height="126.1" fill="#fed017"/>
<rect x="169" y="185" width="1.5" height="126.1" fill="#ffbb12"/>
<rect x="170" y="185" width="1.5" height="126.1" fill="#ffbc12"/>
<rect x="171" y="185" width="1.5" height="126.1" fill="#ffbf13"/>
<rect x="172" y="185" width="1.5" height="126.1" fill="#ffb110"/>
<rect x="173" y="185" width="1.5" height="126.1" fill="#ffac10"/>
<rect x="174" y="185" width="1.5" height="126.1" fill="#ffb010"/>
<rect x="175" y="185" width="1.5" height="126.1" fill="#ffad10"/>
<rect x="176" y="185" width="1.5" height="126.1" fill="#ffb110"/>
<rect x="177" y="185" width="1.5" height="126.1" fill="#ffb311"/>
<rect x="178" y="185" width="1.5" height="126.1" fill="#ffb411"/>
<rect x="179" y="185" width="1.5" height="126.1" fill="#ffa80f"/>
<rect x="180" y="185" width="1.5" height="126.1" fill="#ffb110"/>
<rect x="181" y="185" width="1.5" height="126.1" fill="#ffa90f"/>
<rect x="182" y="185" width="1.5" height="126.1" fill="#ffa00e"/>
<rect x="183" y="185" width="1.5" height="126.1" fill="#ffa40e"/>
<rect x="184" y="185" width="1.5" height="126.1" fill="#ffab0f"/>
<rect x="185" y="185" width="1.5" height="126.1" fill="#ffa80f"/>
<rect x="186" y="185" width="1.5" height="126.1" fill="#ff9f0e"/>
<rect x="187" y="185" width="1.5" height="126.1" fill="#ffa80f"/>
<rect x="188" y="185" width="1.5" height="126.1" fill="#ffa50f"/>
<rect x="189" y="185" width="1.5" height="126.1" fill="#ffa80f"/>
<rect x="190" y="185" width="1.5" height="126.1" fill="#ffa10e"/>
<rect x="191" y="185" width="1.5" height="126.1" fill="#ffa40e"/>
<rect x="192" y="185" width="1.5" height="126.1" fill="#ff9c0d"/>
<rect x="193" y="185" width="1.5" height="126.1" fill="#ffa40e"/>
<rect x="194" y="185" width="1.5" height="126.1" fill="#ffa10e"/>
<rect x="195" y="185" width="1.5" height="126.1" fill="#ffa80f"/>
<rect x="196" y="185" width="1.5" height="126.1" fill="#ff990d"/>
<rect x="197" y="185" width="1.5" height="126.1" fill="#ff990d"/>
<rect x="198" y="185" width="1.5" height="126.1" fill="#ff9d0d"/>
<rect x="199" y="185" width="1.5" height="126.1" fill="#ff9c0d"/>
<rect x="200" y="185" width="1.5" height="126.1" fill="#ff9b0d"/>
<rect x="201" y="185" width="1.5" height="126.1" fill="#ff980d"/>
<rect x="202" y="185" width="1.5" height="126.1" fill="#ffa10e"/>
<rect x="203" y="185" width="1.5" height="126.1" fill="#ff9d0d"/>
<rect x="204" y="185" width="1.5" height="126.1" fill="#ff940c"/>
<rect x="205" y="185" width="1.5" height="126.1" fill="#ff970c"/>
<rect x="206" y="185" width="1.5" height="126.1" fill="#ff980d"/>
<rect x="207" y="185" width="1.5" height="126.1" fill="#ff990d"/>
<rect x="208" y="185" width="1.5" height="126.1" fill="#ff980d"/>
<rect x="209" y="185" width="1.5" height="126.1" fill="#ff980c"/>
<rect x="210" y="185" width="1.5" height="126.1" fill="#ff980c"/>
<rect x="211" y="185" width="1.5" height="126.1" fill="#ff9d0d"/>
<rect x="212" y="185" width="1.5" height="126.1" fill="#ff990d"/>
<rect x="213" y="185" width="1.5" height="126.1" fill="#ff990d"/>
<rect x="214" y="185" width="1.5" height="126.1" fill="#ff990d"/>
<rect x="215" y="185" width="1.5" height="126.1" fill="#ff9d0d"/>
<rect x="216" y="185" width="1.5" height="126.1" fill="#ff9b0d"/>
<rect x="217" y="185" width="1.5" height="126.1" fill="#ff9d0d"/>
<rect x="218" y="185" width="1.5" height="126.1" fill="#ff9c0d"/>
<rect x="219" y="185" width="1.5" height="126.1" fill="#ff990d"/>
<rect x="220" y="185" width="1.5" height="126.1" fill="#ff980d"/>
<rect x="221" y="185" width="1.5" height="126.1" fill="#ff980d"/>
<rect x="222" y="185" width="1.5" height="126.1" fill="#ff980c"/>
<rect x="223" y="185" width="1.5" height="126.1" fill="#ff990d"/>
<rect x="224" y="185" width="1.5" height="126.1" fill="#ff9f0e"/>
<rect x="225" y="185" width="1.5" height="126.1" fill="#ff9b0d"/>
<rect x="226" y="185" width="1.5" height="126.1" fill="#ff9c0d"/>
<rect x="227" y="185" width="1.5" height="126.1" fill="#ffa10e"/>
<rect x="228" y="185" width="1.5" height="126.1" fill="#ff9d0d"/>
<rect x="229" y="185" width="1.5" height="126.1" fill="#ff990d"/>
<rect x="230" y="185" width="1.5" height="126.1" fill="#ff980d"/>
<rect x="231" y="185" width="1.5" height="126.1" fill="#ff9b0d"/>
<rect x="232" y="185" width="1.5" height="126.1" fill="#ffa00e"/>
<rect x="233" y="185" width="1.5" height="126.1" fill="#ff9b0d"/>
<rect x="234" y="185" width="1.5" height="126.1" fill="#ff9d0d"/>
<rect x="235" y="185" width="1.5" height="126.1" fill="#ff970c"/>
<rect x="236" y="185" width="1.5" height="126.1" fill="#ffa00e"/>
<rect x="237" y="185" width="1.5" height="126.1" fill="#ff980d"/>
<rect x="238" y="185" width="1.5" height="126.1" fill="#ff9c0d"/>
<rect x="239" y="185" width="1.5" height="126.1" fill="#ff990d"/>
<rect x="240" y="185" width="1.5" height="126.1" fill="#ff9d0d"/>
<rect x="241" y="185" width="1.5" height="126.1" fill="#ff990d"/>
<rect x="242" y="185" width="1.5" height="126.1" fill="#ff9b0d"/>
<rect x="243" y="185" width="1.5" height="126.1" fill="#ff9c0d"/>
<rect x="244" y="185" width="1.5" height="126.1" fill="#ff9f0e"/>
<rect x="245" y="185" width="1.5" height="126.1" fill="#ff9d0d"/>
<rect x="246" y="185" width="1.5" height="126.1" fill="#ffa30e"/>
<rect x="247" y="185" width="1.5" height="126.1" fill="#ff990d"/>
<rect x="248" y="185" width="1.5" height="126.1" fill="#ff9c0d"/>
<rect x="249" y="185" width="1.5" height="126.1" fill="#ff970c"/>
<rect x="250" y="185" width="1.5" height="126.1" fill="#ffa10e"/>
<rect x="251" y="185" width="1.5" height="126.1" fill="#ff970c"/>
<rect x="252" y="185" width="1.5" height="126.1" fill="#ff990d"/>
<rect x="253" y="185" width="1.5" height="126.1" fill="#ff9d0d"/>
<rect x="254" y="185" width="1.5" height="126.1" fill="#ff990d"/>
<rect x="255" y="185" width="1.5" height="126.1" fill="#ffa00e"/>
<rect x="256" y="185" width="1.5" height="126.1" fill="#ffa10e"/>
<rect x="257" y="185" width="1.5" height="126.1" fill="#ff980d"/>
<rect x="258" y="185" width="1.5" height="126.1" fill="#ffa30e"/>
<rect x="259" y="185" width="1.5" height="126.1" fill="#ff9b0d"/>
<rect x="260" y="185" width="1.5" height="126.1" fill="#ff980c"/>
<rect x="261" y="185" width="1.5" height="126.1" fill="#ff9b0d"/>
<rect x="262" y="185" width="1.5" height="126.1" fill="#ff980c"/>
<rect x="263" y="185" width="1.5" height="126.1" fill="#ff9c0d"/>
<rect x="264" y="185" width="1.5" height="126.1" fill="#ff9d0d"/>
<rect x="265" y="185" width="1.5" height="126.1" fill="#ff980d"/>
<rect x="266" y="185" width="1.5" height="126.1" fill="#ff980d"/>
<rect x="267" y="185" width="1.5" height="126.1" fill="#ff9b0d"/>
<rect x="268" y="185" width="1.5" height="126.1" fill="#ff970c"/>
<rect x="269" y="185" width="1.5" height="126.1" fill="#ffa00e"/>
<rect x="270" y="185" width="1.5" height="126.1" fill="#ff980d"/>
<rect x="271" y="185" width="1.5" height="126.1" fill="#ff9c0d"/>
<rect x="272" y="185" width="1.5" height="126.1" fill="#ff9b0d"/>
<rect x="273" y="185" width="1.5" height="126.1" fill="#ff9b0d"/>
<rect x="274" y="185" width="1.5" height="126.1" fill="#ff9b0d"/>
<rect x="275" y="185" width="1.5" height="126.1" fill="#ff990d"/>
<rect x="276" y="185" width="1.5" height="126.1" fill="#ff970c"/>
<rect x="277" y="185" width="1.5" height="126.1" fill="#ff970c"/>
<rect x="278" y="185" width="1.5" height="126.1" fill="#ff9b0d"/>
<rect x="279" y="185" width="1.5" height="126.1" fill="#ff9b0d"/>
<rect x="280" y="185" width="1.5" height="126.1" fill="#ff9f0e"/>
<rect x="281" y="185" width="1.5" height="126.1" fill="#ff970c"/>
<rect x="282" y="185" width="1.5" height="126.1" fill="#ff980d"/>
<rect x="283" y="185" width="1.5" height="126.1" fill="#ff9d0d"/>
<rect x="284" y="185" width="1.5" height="126.1" fill="#ff990d"/>
<rect x="285" y="185" width="1.5" height="126.1" fill="#ff970c"/>
<rect x="286" y="185" width="1.5" height="126.1" fill="#ff9d0d"/>
<rect x="287" y="185" width="1.5" height="126.1" fill="#ff990d"/>
<rect x="288" y="185" width="1.5" height="126.1" fill="#ff9b0d"/>
<rect x="289" y="185" width="1.5" height="126.1" fill="#ff9b0d"/>
<rect x="290" y="185" width="1.5" height="126.1" fill="#ff9b0d"/>
<rect x="291" y="185" width="1.5" height="126.1" fill="#ffa10e"/>
<rect x="292" y="185" width="1.5" height="126.1" fill="#ff980c"/>
<rect x="293" y="185" width="1.5" height="126.1" fill="#ff9c0d"/>
<rect x="294" y="185" width="1.5" height="126.1" fill="#ff990d"/>
<rect x="295" y="185" width="1.5" height="126.1" fill="#ffa00e"/>
<rect x="296" y="185" width="1.5" height="126.1" fill="#ff940c"/>
<rect x="297" y="185" width="1.5" height="126.1" fill="#ff980d"/>
<rect x="298" y="185" width="1.5" height="126.1" fill="#ffa10e"/>
<rect x="299" y="185" width="1.5" height="126.1" fill="#ff9c0d"/>
<rect x="300" y="185" width="1.5" height="126.1" fill="#ff9b0d"/>
<rect x="301" y="185" width="1.5" height="126.1" fill="#ff9d0d"/>
<rect x="302" y="185" width="1.5" height="126.1" fill="#ff9f0e"/>
<rect x="303" y="185" width="1.5" height="126.1" fill="#ff9f0e"/>
<rect x="304" y="185" width="1.5" height="126.1" fill="#ff9d0d"/>
<rect x="305" y="185" width="1.5" height="126.1" fill="#ff990d"/>
<rect x="306" y="185" width="1.5" height="126.1" fill="#ff990d"/>
<rect x="307" y="185" width="1.5" height="126.1" fill="#ff970c"/>
<rect x="308" y="185" width="1.5" height="126.1" fill="#ff9b0d"/>
<rect x="309" y="185" width="1.5" height="126.1" fill="#ffa30e"/>
<rect x="310" y="185" width="1.5" height="126.1" fill="#ff9b0d"/>
<rect x="311" y="185" width="1.5" height="126.1" fill="#ff970c"/>
<rect x="312" y="185" width="1.5" height="126.1" fill="#ff9f0e"/>
<rect x="313" y="185" width="1.5" height="126.1" fill="#ff990d"/>
<rect x="314" y="185" width="1.5" height="126.1" fill="#ff990d"/>
<rect x="315" y="185" width="1.5" height="126.1" fill="#ff9f0e"/>
<rect x="316" y="185" width="1.5" height="126.1" fill="#ff9c0d"/>
<rect x="317" y="185" width="1.5" height="126.1" fill="#ffa00e"/>
<rect x="318" y="185" width="1.5" height="126.1" fill="#ff980d"/>
<rect x="319" y="185" width="1.5" height="126.1" fill="#ff9b0d"/>
<rect x="320" y="185" width="1.5" height="126.1" fill="#ff9d0d"/>
<rect x="321" y="185" width="1.5" height="126.1" fill="#ff9b0d"/>
<rect x="322" y="185" width="1.5" height="126.1" fill="#ff9c0d"/>
<rect x="323" y="185" width="1.5" height="126.1" fill="#ffa30e"/>
<rect x="324" y="185" width="1.5" height="126.1" fill="#ffa50f"/>
<rect x="325" y="185" width="1.5" height="126.1" fill="#ffa70f"/>
<rect x="326" y="185" width="1.5" height="126.1" fill="#ffa70f"/>
<rect x="327" y="185" width="1.5" height="126.1" fill="#ff9f0e"/>
<rect x="328" y="185" width="1.5" height="126.1" fill="#ff9d0d"/>
<rect x="329" y="185" width="1.5" height="126.1" fill="#ff9d0d"/>
<rect x="330" y="185" width="1.5" height="126.1" fill="#ffa90f"/>
<rect x="331" y="185" width="1.5" height="126.1" fill="#ffa40e"/>
<rect x="332" y="185" width="1.5" height="126.1" fill="#ffa00e"/>
<rect x="333" y="185" width="1.5" height="126.1" fill="#ff9f0e"/>
<rect x="334" y="185" width="1.5" height="126.1" fill="#ffa70f"/>
<rect x="335" y="185" width="1.5" height="126.1" fill="#ffa80f"/>
<rect x="336" y="185" width="1.5" height="126.1" fill="#ffa90f"/>
<rect x="337" y="185" width="1.5" height="126.1" fill="#ffa80f"/>
<rect x="338" y="185" width="1.5" height="126.1" fill="#ffa80f"/>
<rect x="339" y="185" width="1.5" height="126.1" fill="#ffa90f"/>
<rect x="340" y="185" width="1.5" height="126.1" fill="#ffb110"/>
<rect x="341" y="185" width="1.5" height="126.1" fill="#ffac10"/>
<rect x="342" y="185" width="1.5" height="126.1" fill="#ffb811"/>
<rect x="343" y="185" width="1.5" height="126.1" fill="#ffb311"/>
<rect x="344" y="185" width="1.5" height="126.1" fill="#ffb110"/>
<rect x="345" y="185" width="1.5" height="126.1" fill="#ffb411"/>
<rect x="346" y="185" width="1.5" height="126.1" fill="#ffb912"/>
<rect x="347" y="185" width="1.5" height="126.1" fill="#ffc013"/>
<rect x="348" y="185" width="1.5" height="126.1" fill="#ffc113"/>
<rect x="349" y="185" width="1.5" height="126.1" fill="#ffc715"/>
<rect x="350" y="185" width="1.5" height="126.1" fill="#ffcb15"/>
<rect x="351" y="185" width="1.5" height="126.1" fill="#fed017"/>
<rect x="352" y="185" width="1.5" height="126.1" fill="#ffc915"/>
<rect x="353" y="185" width="1.5" height="126.1" fill="#fdd919"/>
<rect x="354" y="185" width="1.5" height="126.1" fill="#fddb1a"/>
<rect x="355" y="185" width="1.5" height="126.1" fill="#fed418"/>
<rect x="356" y="185" width="1.5" height="126.1" fill="#fcdd1a"/>
<rect x="357" y="185" width="1.5" height="126.1" fill="#fddb19"/>
<rect x="358" y="185" width="1.5" height="126.1" fill="#fce01b"/>
<rect x="359" y="185" width="1.5" height="126.1" fill="#fae31d"/>
<rect x="360" y="185" width="1.5" height="126.1" fill="#fae41d"/>
<rect x="361" y="185" width="1.5" height="126.1" fill="#f7e81f"/>
<rect x="362" y="185" width="1.5" height="126.1" fill="#f7e81f"/>
<rect x="363" y="185" width="1.5" height="126.1" fill="#f6e920"/>
<rect x="364" y="185" width="1.5" height="126.1" fill="#eceb25"/>
<rect x="365" y="185" width="1.5" height="126.1" fill="#e1eb2a"/>
<rect x="366" y="185" width="1.5" height="126.1" fill="#dceb2d"/>
<rect x="367" y="185" width="1.5" height="126.1" fill="#b5e844"/>
<rect x="368" y="185" width="1.5" height="126.1" fill="#84e367"/>
<rect x="369" y="185" width="1.5" height="126.1" fill="#69e07e"/>
<rect x="370" y="185" width="1.5" height="126.1" fill="#22e0c6"/>
</g></g>
</g>
<path d="M92.8 189.9V306.3M92.8 306.3h-3.7M92.8 300.48h-1.9M92.8 294.66h-1.9M92.8 288.84h-1.9M92.8 283.02h-1.9M92.8 277.2h-3.7M92.8 271.38h-1.9M92.8 265.56h-1.9M92.8 259.74h-1.9M92.8 253.92h-1.9M92.8 248.1h-3.7M92.8 242.28h-1.9M92.8 236.46h-1.9M92.8 230.64h-1.9M92.8 224.82h-1.9M92.8 219h-3.7M92.8 213.18h-1.9M92.8 207.36h-1.9M92.8 201.54h-1.9M92.8 195.72h-1.9M92.8 189.9h-3.7" stroke="#6a6a6a" stroke-width="0.8" fill="none"/>
<text x="86.4" y="308.05" font-family='"DejaVu Sans","Liberation Sans",sans-serif' font-size="4.7" text-anchor="end" fill="#2a2a2a" stroke="#2a2a2a" stroke-width="0.18">0.00e+00</text>
<text x="86.4" y="278.95" font-family='"DejaVu Sans","Liberation Sans",sans-serif' font-size="4.7" text-anchor="end" fill="#2a2a2a" stroke="#2a2a2a" stroke-width="0.18">5.00e+00</text>
<text x="86.4" y="249.85" font-family='"DejaVu Sans","Liberation Sans",sans-serif' font-size="4.7" text-anchor="end" fill="#2a2a2a" stroke="#2a2a2a" stroke-width="0.18">1.00e+01</text>
<text x="86.4" y="220.75" font-family='"DejaVu Sans","Liberation Sans",sans-serif' font-size="4.7" text-anchor="end" fill="#2a2a2a" stroke="#2a2a2a" stroke-width="0.18">1.50e+01</text>
<text x="86.4" y="191.65" font-family='"DejaVu Sans","Liberation Sans",sans-serif' font-size="4.7" text-anchor="end" fill="#2a2a2a" stroke="#2a2a2a" stroke-width="0.18">2.00e+01</text>
<path d="M94.3 309H423.7M94.3 309v2.8M105.28 309v1.3M116.26 309v1.3M127.24 309v1.3M138.22 309v1.3M149.2 309v2.8M160.18 309v1.3M171.16 309v1.3M182.14 309v1.3M193.12 309v1.3M204.1 309v2.8M215.08 309v1.3M226.06 309v1.3M237.04 309v1.3M248.02 309v1.3M259 309v2.8M269.98 309v1.3M280.96 309v1.3M291.94 309v1.3M302.92 309v1.3M313.9 309v2.8M324.88 309v1.3M335.86 309v1.3M346.84 309v1.3M357.82 309v1.3M368.8 309v2.8M379.78 309v1.3M390.76 309v1.3M401.74 309v1.3M412.72 309v1.3M423.7 309v2.8" stroke="#5a5a5a" stroke-width="0.8" fill="none"/>
<text x="94.3" y="318" font-family='"DejaVu Sans","Liberation Sans",sans-serif' font-size="4.75" text-anchor="middle" fill="#2a2a2a" stroke="#2a2a2a" stroke-width="0.18">2448.500</text>
<text x="149.2" y="318" font-family='"DejaVu Sans","Liberation Sans",sans-serif' font-size="4.75" text-anchor="middle" fill="#2a2a2a" stroke="#2a2a2a" stroke-width="0.18">2449.000</text>
<text x="204.1" y="318" font-family='"DejaVu Sans","Liberation Sans",sans-serif' font-size="4.75" text-anchor="middle" fill="#2a2a2a" stroke="#2a2a2a" stroke-width="0.18">2449.500</text>
<text x="259" y="318" font-family='"DejaVu Sans","Liberation Sans",sans-serif' font-size="4.75" text-anchor="middle" fill="#2a2a2a" stroke="#2a2a2a" stroke-width="0.18">2450.000</text>
<text x="313.9" y="318" font-family='"DejaVu Sans","Liberation Sans",sans-serif' font-size="4.75" text-anchor="middle" fill="#2a2a2a" stroke="#2a2a2a" stroke-width="0.18">2450.500</text>
<text x="368.8" y="318" font-family='"DejaVu Sans","Liberation Sans",sans-serif' font-size="4.75" text-anchor="middle" fill="#2a2a2a" stroke="#2a2a2a" stroke-width="0.18">2451.000</text>
<text x="423.7" y="318" font-family='"DejaVu Sans","Liberation Sans",sans-serif' font-size="4.75" text-anchor="middle" fill="#2a2a2a" stroke="#2a2a2a" stroke-width="0.18">2451.500</text>
<text x="258.4" y="324.9" font-family='"DejaVu Sans","Liberation Sans",sans-serif' font-size="5.55" text-anchor="middle" font-weight="bold" fill="#151515" stroke="#151515" stroke-width="0.22">Frequency (MHz)</text>
<text x="60.2" y="248.2" font-family='"DejaVu Sans","Liberation Sans",sans-serif' font-size="5.5" text-anchor="middle" font-weight="bold" fill="#151515" transform="rotate(-90 60.2 248.2)" stroke="#151515" stroke-width="0.22">Time (s)</text>
<text x="154" y="346.3" font-family='"Liberation Sans","DejaVu Sans",sans-serif' font-size="9.4" text-anchor="start" fill="#161616">b.</text>
<text x="227.3" y="346.3" font-family='"Liberation Sans","DejaVu Sans",sans-serif' font-size="9.4" text-anchor="start" fill="#161616" textLength="66.3" lengthAdjust="spacingAndGlyphs">BPSK Spectrum</text>
<rect x="8" y="361.4" width="477" height="154.5" fill="#efefef"/>
<rect x="8" y="361.4" width="7.4" height="154.5" fill="#ededed"/>
<rect x="30.9" y="366.3" width="442" height="134.2" fill="#ffffff"/>
<path d="M30.4 365.9H472.9" stroke="#b8b8b8" stroke-width="1" fill="none"/>
<path d="M30 367.2V499M30 499h-2.3M30 492.41h-1.2M30 485.82h-1.2M30 479.23h-1.2M30 472.64h-1.2M30 466.05h-2.3M30 459.46h-1.2M30 452.87h-1.2M30 446.28h-1.2M30 439.69h-1.2M30 433.1h-2.3M30 426.51h-1.2M30 419.92h-1.2M30 413.33h-1.2M30 406.74h-1.2M30 400.15h-2.3M30 393.56h-1.2M30 386.97h-1.2M30 380.38h-1.2M30 373.79h-1.2M30 367.2h-2.3" stroke="#707070" stroke-width="0.8" fill="none"/>
<text x="25.3" y="368.8" font-family='"DejaVu Sans","Liberation Sans",sans-serif' font-size="4.1" text-anchor="end" fill="#111111">1</text>
<text x="25.3" y="401.75" font-family='"DejaVu Sans","Liberation Sans",sans-serif' font-size="4.1" text-anchor="end" fill="#111111">0.5</text>
<text x="25.3" y="434.7" font-family='"DejaVu Sans","Liberation Sans",sans-serif' font-size="4.1" text-anchor="end" fill="#111111">0</text>
<text x="25.3" y="467.65" font-family='"DejaVu Sans","Liberation Sans",sans-serif' font-size="4.1" text-anchor="end" fill="#111111">-0.5</text>
<text x="25.3" y="500.6" font-family='"DejaVu Sans","Liberation Sans",sans-serif' font-size="4.1" text-anchor="end" fill="#111111">-1</text>
<path d="M32.1 501.8H470.5M32.1 501.8v2M43.06 501.8v1M54.02 501.8v1M64.98 501.8v1M75.94 501.8v1M86.9 501.8v2M97.86 501.8v1M108.82 501.8v1M119.78 501.8v1M130.74 501.8v1M141.7 501.8v2M152.66 501.8v1M163.62 501.8v1M174.58 501.8v1M185.54 501.8v1M196.5 501.8v2M207.46 501.8v1M218.42 501.8v1M229.38 501.8v1M240.34 501.8v1M251.3 501.8v2M262.26 501.8v1M273.22 501.8v1M284.18 501.8v1M295.14 501.8v1M306.1 501.8v2M317.06 501.8v1M328.02 501.8v1M338.98 501.8v1M349.94 501.8v1M360.9 501.8v2M371.86 501.8v1M382.82 501.8v1M393.78 501.8v1M404.74 501.8v1M415.7 501.8v2M426.66 501.8v1M437.62 501.8v1M448.58 501.8v1M459.54 501.8v1M470.5 501.8v2" stroke="#707070" stroke-width="0.8" fill="none"/>
<text x="32.1" y="508.9" font-family='"DejaVu Sans","Liberation Sans",sans-serif' font-size="4.1" text-anchor="middle" fill="#111111">0</text>
<text x="86.9" y="508.9" font-family='"DejaVu Sans","Liberation Sans",sans-serif' font-size="4.1" text-anchor="middle" fill="#111111">1</text>
<text x="141.7" y="508.9" font-family='"DejaVu Sans","Liberation Sans",sans-serif' font-size="4.1" text-anchor="middle" fill="#111111">2</text>
<text x="196.5" y="508.9" font-family='"DejaVu Sans","Liberation Sans",sans-serif' font-size="4.1" text-anchor="middle" fill="#111111">3</text>
<text x="251.3" y="508.9" font-family='"DejaVu Sans","Liberation Sans",sans-serif' font-size="4.1" text-anchor="middle" fill="#111111">4</text>
<text x="306.1" y="508.9" font-family='"DejaVu Sans","Liberation Sans",sans-serif' font-size="4.1" text-anchor="middle" fill="#111111">5</text>
<text x="360.9" y="508.9" font-family='"DejaVu Sans","Liberation Sans",sans-serif' font-size="4.1" text-anchor="middle" fill="#111111">6</text>
<text x="415.7" y="508.9" font-family='"DejaVu Sans","Liberation Sans",sans-serif' font-size="4.1" text-anchor="middle" fill="#111111">7</text>
<text x="470.5" y="508.9" font-family='"DejaVu Sans","Liberation Sans",sans-serif' font-size="4.1" text-anchor="middle" fill="#111111">8</text>
<text x="251.3" y="514.4" font-family='"DejaVu Sans","Liberation Sans",sans-serif' font-size="5" text-anchor="middle" font-weight="bold" fill="#101010" stroke="#101010" stroke-width="0.22">Time (ms)</text>
<text x="13.3" y="432.7" font-family='"DejaVu Sans","Liberation Sans",sans-serif' font-size="5" text-anchor="middle" font-weight="bold" fill="#101010" transform="rotate(-90 13.3 432.7)" textLength="28.5" lengthAdjust="spacingAndGlyphs" stroke="#101010" stroke-width="0.22">Amplitude</text>
<rect x="476.3" y="368.1" width="2.9" height="2.9" fill="#1414ee"/>
<text x="481" y="370.9" font-family='"DejaVu Sans","Liberation Sans",sans-serif' font-size="3.9" text-anchor="start" fill="#202020">I</text>
<rect x="476.3" y="377.8" width="2.9" height="2.9" fill="#f41414"/>
<text x="481" y="380.6" font-family='"DejaVu Sans","Liberation Sans",sans-serif' font-size="3.9" text-anchor="start" fill="#202020">Q</text>
<path d="M32.1 433H469.4" stroke="#f48a8a" stroke-width="0.9"/>
<polyline fill="none" stroke="#3a3ae0" stroke-width="0.62" stroke-linejoin="round" points="32.27,409.66 32.52,412.5 32.77,415.72 33.02,419.24 33.27,423 33.53,426.93 33.78,430.93 34.03,434.94 34.28,438.86 34.54,442.62 34.79,446.15 35.04,449.36 35.29,452.2 35.54,454.61 35.8,456.53 36.05,457.94 36.3,458.79 36.55,459.08 36.81,459.02 37.06,458.86 37.32,458.59 37.57,458.22 37.83,457.78 38.08,457.28 38.34,456.73 38.59,456.17 38.85,455.6 39.1,455.05 39.36,454.55 39.61,454.11 39.87,453.74 40.12,453.47 40.38,453.31 40.63,453.25 40.89,453.34 41.16,453.62 41.42,454.06 41.68,454.65 41.94,455.36 42.2,456.17 42.47,457.03 42.73,457.92 42.99,458.78 43.25,459.59 43.51,460.3 43.78,460.89 44.04,461.33 44.3,461.61 44.56,461.7 44.82,461.2 45.08,459.72 45.33,457.3 45.59,454.04 45.85,450.04 46.11,445.43 46.36,440.38 46.62,435.06 46.88,429.65 47.13,424.32 47.39,419.27 47.65,414.67 47.9,410.67 48.16,407.41 48.42,404.99 48.68,403.51 48.93,403.01 49.19,403.78 49.45,406.04 49.71,409.68 49.97,414.52 50.23,420.32 50.49,426.79 50.75,433.59 51.01,440.4 51.27,446.86 51.53,452.66 51.79,457.5 52.05,461.15 52.31,463.41 52.57,464.17 52.83,463.38 53.09,461.04 53.35,457.26 53.61,452.25 53.87,446.24 54.13,439.55 54.39,432.5 54.65,425.45 54.91,418.76 55.17,412.75 55.43,407.74 55.69,403.96 55.95,401.62 56.21,400.83 56.47,401.6 56.73,403.89 56.99,407.58 57.25,412.48 57.51,418.34 57.77,424.89 58.03,431.77 58.29,438.66 58.55,445.2 58.81,451.07 59.07,455.97 59.33,459.65 59.59,461.94 59.85,462.72 60.12,462.09 60.38,460.22 60.64,457.2 60.9,453.15 61.17,448.26 61.43,442.74 61.69,436.83 61.95,430.79 62.21,424.88 62.48,419.36 62.74,414.47 63,410.42 63.26,407.4 63.52,405.53 63.79,404.9 64.04,405.07 64.3,405.55 64.56,406.29 64.81,407.22 65.07,408.25 65.33,409.26 65.59,410.15 65.84,410.82 66.1,411.22 66.36,411.31 66.61,411.31 66.87,411.31 67.13,411.31 67.38,411.31 67.64,411.31 67.9,411.31 68.16,411.31 68.41,411.31 68.67,411.31 68.93,411.31 69.18,411.31 69.44,411.31 69.7,411.31 69.95,411.31 70.21,411.22 70.47,410.82 70.73,410.15 70.98,409.26 71.24,408.25 71.5,407.22 71.75,406.29 72.01,405.55 72.27,405.07 72.52,404.9 72.78,405.46 73.03,407.1 73.29,409.77 73.54,413.37 73.8,417.75 74.05,422.75 74.31,428.17 74.56,433.81 74.82,439.45 75.07,444.87 75.33,449.87 75.58,454.25 75.84,457.85 76.09,460.52 76.35,462.16 76.6,462.72 76.86,461.82 77.12,459.19 77.37,454.97 77.63,449.41 77.89,442.84 78.15,435.63 78.41,428.2 78.66,421 78.92,414.42 79.18,408.86 79.44,404.64 79.69,402.01 79.95,401.12 80.21,401.92 80.47,404.27 80.73,408.07 80.99,413.12 81.25,419.17 81.51,425.91 81.77,433.01 82.03,440.11 82.29,446.85 82.55,452.89 82.81,457.94 83.07,461.74 83.33,464.1 83.59,464.9 83.86,463.98 84.13,461.27 84.4,456.94 84.67,451.22 84.94,444.46 85.21,437.05 85.47,429.41 85.74,422 86.01,415.23 86.28,409.52 86.55,405.18 86.82,402.47 87.09,401.55 87.35,402.61 87.6,405.7 87.86,410.62 88.12,417.03 88.38,424.49 88.64,432.5 88.89,440.51 89.15,447.97 89.41,454.38 89.67,459.3 89.93,462.39 90.18,463.45 90.44,462.95 90.7,461.47 90.96,459.06 91.21,455.81 91.47,451.81 91.73,447.22 91.98,442.19 92.24,436.88 92.5,431.47 92.75,426.16 93.01,421.13 93.27,416.53 93.53,412.54 93.78,409.29 94.04,406.88 94.3,405.4 94.55,404.9 94.82,405.07 95.08,405.56 95.35,406.34 95.61,407.33 95.88,408.46 96.14,409.64 96.41,410.78 96.67,411.77 96.94,412.55 97.2,413.04 97.47,413.2 97.74,412.95 98.02,412.23 98.29,411.13 98.57,409.77 98.84,408.33 99.12,406.98 99.39,405.87 99.67,405.15 99.94,404.9 100.2,405.24 100.47,406.23 100.73,407.86 100.99,410.08 101.25,412.84 101.51,416.07 101.78,419.69 102.04,423.62 102.3,427.75 102.56,431.99 102.83,436.23 103.09,440.36 103.35,444.29 103.61,447.91 103.87,451.14 104.14,453.9 104.4,456.13 104.66,457.75 104.92,458.74 105.18,459.08 105.46,458.88 105.73,458.31 106.01,457.44 106.28,456.37 106.56,455.23 106.83,454.16 107.11,453.29 107.39,452.72 107.66,452.52 107.93,452.78 108.21,453.53 108.48,454.64 108.75,455.95 109.03,457.26 109.3,458.37 109.57,459.11 109.84,459.37 110.1,458.89 110.36,457.47 110.62,455.15 110.87,452.01 111.13,448.17 111.39,443.75 111.64,438.9 111.9,433.79 112.16,428.59 112.41,423.48 112.67,418.63 112.93,414.21 113.19,410.36 113.44,407.23 113.7,404.91 113.96,403.49 114.21,403.01 114.47,403.76 114.73,405.97 114.99,409.52 115.25,414.25 115.51,419.91 115.77,426.22 116.03,432.86 116.29,439.51 116.55,445.82 116.81,451.48 117.07,456.21 117.33,459.76 117.59,461.97 117.85,462.72 118.11,461.97 118.37,459.76 118.63,456.21 118.89,451.48 119.15,445.82 119.41,439.51 119.67,432.86 119.93,426.22 120.19,419.91 120.45,414.25 120.71,409.52 120.98,405.97 121.24,403.76 121.5,403.01 121.75,403.44 122.01,404.7 122.27,406.77 122.53,409.57 122.79,413.02 123.05,417.03 123.31,421.46 123.57,426.18 123.83,431.04 124.08,435.91 124.34,440.63 124.6,445.06 124.86,449.06 125.12,452.52 125.38,455.32 125.64,457.39 125.9,458.65 126.16,459.08 126.43,458.68 126.7,457.57 126.97,455.96 127.24,454.18 127.51,452.58 127.78,451.46 128.05,451.07 128.32,451.4 128.59,452.35 128.87,453.76 129.14,455.44 129.41,457.11 129.69,458.53 129.96,459.47 130.23,459.81 130.49,459.37 130.75,458.09 131.01,456 131.27,453.16 131.53,449.66 131.79,445.61 132.05,441.12 132.3,436.34 132.56,431.41 132.82,426.48 133.08,421.7 133.34,417.21 133.6,413.15 133.86,409.65 134.12,406.81 134.38,404.72 134.63,403.44 134.89,403.01 135.15,403.89 135.41,406.47 135.67,410.61 135.92,416.06 136.18,422.51 136.44,429.59 136.7,436.87 136.95,443.94 137.21,450.39 137.47,455.85 137.73,459.99 137.99,462.57 138.24,463.45 138.5,462.67 138.76,460.38 139.02,456.7 139.28,451.79 139.54,445.93 139.8,439.39 140.06,432.5 140.32,425.61 140.58,419.07 140.84,413.21 141.1,408.3 141.36,404.62 141.62,402.33 141.88,401.55 142.14,402.32 142.4,404.58 142.66,408.23 142.92,413.07 143.18,418.87 143.44,425.33 143.7,432.14 143.96,438.94 144.22,445.41 144.48,451.2 144.74,456.05 145,459.69 145.26,461.95 145.52,462.72 145.78,462.16 146.04,460.52 146.3,457.85 146.55,454.25 146.81,449.87 147.07,444.87 147.33,439.45 147.58,433.81 147.84,428.17 148.1,422.75 148.35,417.75 148.61,413.37 148.87,409.77 149.13,407.1 149.38,405.46 149.64,404.9 149.9,405.06 150.15,405.52 150.41,406.23 150.67,407.12 150.93,408.1 151.18,409.06 151.44,409.91 151.7,410.56 151.95,410.94 152.21,411.02 152.47,411.02 152.72,411.02 152.98,411.02 153.24,411.02 153.5,411.02 153.75,411.02 154.01,411.02 154.27,411.02 154.52,411.02 154.78,411.02 155.04,411.02 155.29,411.02 155.55,411.02 155.81,411.02 156.07,410.94 156.32,410.56 156.58,409.91 156.84,409.06 157.09,408.1 157.35,407.12 157.61,406.23 157.86,405.52 158.12,405.06 158.38,404.9 158.64,405.53 158.9,407.37 159.17,410.35 159.43,414.35 159.69,419.17 159.95,424.63 160.21,430.46 160.48,436.43 160.74,442.27 161,447.72 161.26,452.55 161.52,456.54 161.79,459.52 162.05,461.37 162.31,461.99 162.57,461.28 162.83,459.18 163.09,455.79 163.35,451.3 163.61,445.91 163.87,439.91 164.13,433.59 164.39,427.27 164.65,421.27 164.91,415.89 165.17,411.39 165.43,408.01 165.69,405.91 165.95,405.19 166.2,405.62 166.46,406.87 166.71,408.92 166.96,411.72 167.22,415.18 167.47,419.21 167.72,423.71 167.97,428.54 168.23,433.59 168.48,438.7 168.73,443.74 168.99,448.57 169.24,453.07 169.49,457.1 169.75,460.56 170,463.36 170.25,465.41 170.5,466.67 170.76,467.09 171.01,466.77 171.26,465.82 171.51,464.26 171.76,462.12 172.02,459.44 172.27,456.28 172.52,452.7 172.77,448.78 173.02,444.6 173.27,440.23 173.52,435.78 173.78,431.32 174.03,426.96 174.28,422.77 174.53,418.85 174.78,415.27 175.03,412.11 175.29,409.44 175.54,407.3 175.79,405.73 176.04,404.78 176.29,404.47 176.56,405.32 176.83,407.84 177.1,411.88 177.37,417.2 177.64,423.5 177.9,430.4 178.17,437.51 178.44,444.41 178.71,450.71 178.98,456.03 179.25,460.07 179.52,462.59 179.79,463.45 180.04,462.53 180.3,459.82 180.56,455.48 180.82,449.77 181.07,443 181.33,435.59 181.59,427.95 181.85,420.54 182.11,413.78 182.36,408.06 182.62,403.73 182.88,401.02 183.14,400.1 183.39,401.06 183.65,403.89 183.91,408.43 184.17,414.41 184.42,421.48 184.68,429.23 184.94,437.22 185.2,444.98 185.45,452.05 185.71,458.03 185.97,462.56 186.23,465.4 186.49,466.36 186.75,465.03 187.02,461.13 187.28,455 187.54,447.12 187.81,438.13 188.07,428.76 188.34,419.77 188.6,411.89 188.87,405.76 189.13,401.87 189.4,400.53 189.67,401.45 189.94,404.14 190.2,408.44 190.47,414.12 190.74,420.84 191.01,428.2 191.28,435.78 191.55,443.14 191.82,449.86 192.09,455.54 192.36,459.84 192.62,462.53 192.89,463.45 193.15,462.81 193.4,460.92 193.65,457.86 193.9,453.76 194.16,448.81 194.41,443.22 194.66,437.23 194.91,431.12 195.17,425.13 195.42,419.54 195.67,414.59 195.92,410.49 196.17,407.43 196.43,405.54 196.68,404.9 196.94,405.25 197.19,406.28 197.45,407.98 197.71,410.31 197.96,413.2 198.22,416.61 198.48,420.45 198.73,424.64 198.99,429.08 199.25,433.67 199.5,438.32 199.76,442.91 200.02,447.35 200.27,451.54 200.53,455.38 200.79,458.79 201.04,461.68 201.3,464.01 201.55,465.71 201.81,466.74 202.07,467.09 202.32,466.68 202.58,465.47 202.83,463.49 203.09,460.79 203.34,457.45 203.6,453.56 203.85,449.23 204.11,444.56 204.36,439.7 204.62,434.77 204.87,429.9 205.13,425.24 205.38,420.9 205.64,417.01 205.89,413.67 206.15,410.98 206.4,409 206.66,407.79 206.91,407.38 207.17,408.04 207.43,410.01 207.69,413.18 207.95,417.39 208.21,422.42 208.47,428.04 208.73,433.96 208.99,439.87 209.25,445.49 209.51,450.53 209.77,454.74 210.03,457.9 210.29,459.87 210.55,460.53 210.82,460.33 211.08,459.72 211.35,458.77 211.61,457.55 211.88,456.16 212.14,454.71 212.41,453.32 212.67,452.1 212.94,451.15 213.2,450.55 213.47,450.34 213.73,450.55 214,451.15 214.26,452.1 214.53,453.32 214.79,454.71 215.05,456.16 215.32,457.55 215.58,458.77 215.85,459.72 216.11,460.33 216.38,460.53 216.63,460 216.89,458.43 217.14,455.87 217.4,452.43 217.65,448.24 217.91,443.45 218.16,438.26 218.42,432.86 218.67,427.47 218.93,422.28 219.18,417.49 219.44,413.3 219.69,409.86 219.95,407.3 220.2,405.73 220.46,405.19 220.72,405.78 220.98,407.52 221.24,410.34 221.5,414.11 221.77,418.67 222.03,423.81 222.29,429.32 222.55,434.95 222.82,440.46 223.08,445.61 223.34,450.16 223.6,453.93 223.86,456.75 224.13,458.49 224.39,459.08 224.65,458.62 224.91,457.26 225.17,455.03 225.42,452.01 225.68,448.28 225.94,443.97 226.2,439.19 226.46,434.11 226.72,428.86 226.98,423.61 227.24,418.52 227.5,413.75 227.75,409.44 228.01,405.71 228.27,402.69 228.53,400.46 228.79,399.1 229.05,398.64 229.31,398.87 229.57,399.56 229.83,400.7 230.08,402.28 230.34,404.27 230.6,406.65 230.86,409.38 231.12,412.43 231.38,415.75 231.64,419.31 231.9,423.05 232.16,426.92 232.41,430.87 232.67,434.85 232.93,438.81 233.19,442.68 233.45,446.42 233.71,449.98 233.97,453.3 234.23,456.35 234.49,459.08 234.74,461.46 235,463.45 235.26,465.02 235.52,466.16 235.78,466.86 236.04,467.09 236.3,466.75 236.55,465.76 236.81,464.13 237.07,461.9 237.32,459.12 237.58,455.85 237.83,452.16 238.09,448.14 238.35,443.88 238.6,439.46 238.86,435 239.12,430.59 239.37,426.33 239.63,422.31 239.89,418.62 240.14,415.35 240.4,412.57 240.66,410.34 240.91,408.7 241.17,407.71 241.43,407.38 241.68,407.74 241.93,408.8 242.19,410.54 242.44,412.91 242.69,415.84 242.94,419.25 243.2,423.06 243.45,427.16 243.7,431.43 243.96,435.76 244.21,440.03 244.46,444.12 244.72,447.93 244.97,451.35 245.22,454.28 245.47,456.65 245.73,458.39 245.98,459.45 246.23,459.81 246.51,459.47 246.78,458.53 247.05,457.11 247.33,455.44 247.6,453.76 247.87,452.35 248.14,451.4 248.42,451.07 248.69,451.35 248.97,452.18 249.24,453.43 249.52,454.98 249.79,456.62 250.07,458.17 250.34,459.43 250.62,460.25 250.89,460.53 251.15,459.93 251.4,458.15 251.65,455.28 251.9,451.43 252.16,446.77 252.41,441.52 252.66,435.89 252.91,430.13 253.17,424.5 253.42,419.25 253.67,414.59 253.92,410.74 254.17,407.87 254.43,406.09 254.68,405.49 254.94,405.79 255.19,406.69 255.45,408.18 255.71,410.2 255.96,412.74 256.22,415.71 256.48,419.07 256.73,422.72 256.99,426.6 257.25,430.62 257.5,434.68 257.76,438.69 258.02,442.57 258.27,446.23 258.53,449.58 258.79,452.56 259.04,455.09 259.3,457.12 259.55,458.6 259.81,459.5 260.07,459.81 260.33,459.72 260.59,459.48 260.86,459.09 261.12,458.57 261.38,457.95 261.64,457.26 261.91,456.53 262.17,455.8 262.43,455.11 262.7,454.49 262.96,453.97 263.22,453.58 263.48,453.33 263.75,453.25 264,453.34 264.25,453.6 264.5,454.02 264.76,454.58 265.01,455.25 265.26,456.02 265.51,456.84 265.77,457.68 266.02,458.49 266.27,459.26 266.52,459.94 266.78,460.5 267.03,460.92 267.28,461.17 267.53,461.26 267.79,460.79 268.05,459.41 268.3,457.15 268.56,454.1 268.82,450.35 269.08,446.05 269.33,441.32 269.59,436.34 269.85,431.28 270.1,426.3 270.36,421.57 270.62,417.27 270.87,413.52 271.13,410.47 271.39,408.21 271.65,406.83 271.9,406.36 272.16,406.83 272.42,408.21 272.67,410.47 272.93,413.52 273.19,417.27 273.44,421.57 273.7,426.3 273.96,431.28 274.22,436.34 274.47,441.32 274.73,446.05 274.99,450.35 275.24,454.1 275.5,457.15 275.76,459.41 276.01,460.79 276.27,461.26 276.52,461.05 276.77,460.42 277.03,459.43 277.28,458.15 277.53,456.7 277.78,455.19 278.03,453.74 278.28,452.47 278.54,451.47 278.79,450.85 279.04,450.63 279.3,450.91 279.56,451.72 279.83,452.97 280.09,454.56 280.35,456.31 280.61,458.07 280.87,459.65 281.14,460.91 281.4,461.71 281.66,461.99 281.92,461.35 282.18,459.44 282.45,456.36 282.71,452.23 282.97,447.25 283.23,441.61 283.5,435.58 283.76,429.42 284.02,423.39 284.28,417.75 284.54,412.77 284.81,408.64 285.07,405.56 285.33,403.65 285.59,403.01 285.85,403.76 286.11,405.97 286.37,409.52 286.63,414.25 286.89,419.91 287.15,426.22 287.41,432.86 287.67,439.51 287.93,445.82 288.19,451.48 288.45,456.21 288.71,459.76 288.97,461.97 289.23,462.72 289.49,461.87 289.75,459.36 290.01,455.34 290.26,450.04 290.52,443.78 290.78,436.91 291.04,429.84 291.29,422.97 291.55,416.7 291.81,411.41 292.07,407.39 292.32,404.88 292.58,404.03 292.84,404.45 293.09,405.72 293.34,407.79 293.59,410.6 293.85,414.09 294.1,418.15 294.35,422.68 294.61,427.54 294.86,432.62 295.11,437.77 295.36,442.84 295.62,447.71 295.87,452.24 296.12,456.3 296.38,459.79 296.63,462.6 296.88,464.67 297.14,465.93 297.39,466.36 297.64,466.15 297.9,465.53 298.15,464.5 298.41,463.08 298.66,461.28 298.92,459.13 299.17,456.66 299.43,453.89 299.68,450.85 299.94,447.6 300.19,444.17 300.45,440.6 300.7,436.94 300.96,433.23 301.21,429.52 301.47,425.86 301.72,422.29 301.98,418.85 302.23,415.6 302.49,412.57 302.74,409.8 303,407.33 303.25,405.18 303.5,403.38 303.76,401.96 304.01,400.93 304.27,400.31 304.52,400.1 304.77,400.33 305.03,401.01 305.28,402.14 305.53,403.7 305.78,405.66 306.03,407.99 306.28,410.66 306.53,413.62 306.78,416.82 307.03,420.22 307.28,423.77 307.53,427.39 307.78,431.05 308.03,434.68 308.28,438.22 308.53,441.62 308.78,444.83 309.03,447.79 309.28,450.46 309.53,452.79 309.78,454.75 310.03,456.3 310.29,457.43 310.54,458.12 310.79,458.35 311.06,458.17 311.34,457.67 311.61,456.89 311.89,455.94 312.16,454.93 312.44,453.98 312.71,453.21 312.99,452.7 313.26,452.52 313.52,452.72 313.79,453.29 314.05,454.18 314.31,455.29 314.57,456.53 314.83,457.77 315.1,458.88 315.36,459.77 315.62,460.34 315.88,460.53 316.14,460.01 316.39,458.46 316.65,455.93 316.9,452.54 317.16,448.4 317.41,443.68 317.67,438.56 317.92,433.23 318.18,427.9 318.43,422.78 318.69,418.06 318.94,413.92 319.2,410.52 319.45,408 319.71,406.45 319.96,405.92 320.22,406.26 320.48,407.26 320.74,408.91 320.99,411.17 321.25,413.99 321.51,417.3 321.77,421.03 322.03,425.1 322.29,429.42 322.55,433.88 322.8,438.4 323.06,442.87 323.32,447.18 323.58,451.25 323.84,454.98 324.1,458.29 324.35,461.11 324.61,463.37 324.87,465.02 325.13,466.02 325.39,466.36 325.65,466.14 325.91,465.48 326.17,464.38 326.42,462.87 326.68,460.97 326.94,458.69 327.2,456.08 327.46,453.16 327.72,449.98 327.98,446.57 328.24,442.99 328.5,439.28 328.75,435.5 329.01,431.69 329.27,427.9 329.53,424.19 329.79,420.61 330.05,417.21 330.31,414.03 330.57,411.11 330.83,408.49 331.08,406.22 331.34,404.31 331.6,402.8 331.86,401.71 332.12,401.05 332.38,400.83 332.64,401.15 332.89,402.11 333.15,403.7 333.4,405.86 333.66,408.56 333.92,411.74 334.17,415.32 334.43,419.22 334.69,423.36 334.94,427.64 335.2,431.97 335.46,436.25 335.71,440.39 335.97,444.3 336.23,447.87 336.48,451.05 336.74,453.75 337,455.92 337.25,457.5 337.51,458.46 337.77,458.79 338.03,458.63 338.29,458.19 338.55,457.5 338.82,456.62 339.08,455.66 339.34,454.69 339.6,453.81 339.86,453.12 340.13,452.68 340.39,452.52 340.65,452.73 340.91,453.32 341.17,454.24 341.44,455.39 341.7,456.67 341.96,457.96 342.22,459.11 342.49,460.03 342.75,460.62 343.01,460.83 343.27,460.42 343.53,459.2 343.79,457.22 344.05,454.52 344.3,451.2 344.56,447.35 344.82,443.1 345.08,438.56 345.34,433.88 345.6,429.21 345.86,424.67 346.12,420.41 346.38,416.57 346.63,413.24 346.89,410.55 347.15,408.57 347.41,407.35 347.67,406.94 347.93,407.4 348.19,408.74 348.45,410.94 348.71,413.93 348.96,417.61 349.22,421.87 349.48,426.59 349.74,431.61 350,436.8 350.26,441.98 350.52,447.01 350.78,451.72 351.04,455.99 351.29,459.67 351.55,462.65 351.81,464.85 352.07,466.2 352.33,466.65 352.59,466.42 352.85,465.74 353.11,464.61 353.37,463.06 353.62,461.09 353.88,458.75 354.14,456.05 354.4,453.04 354.66,449.76 354.92,446.25 355.18,442.55 355.44,438.73 355.7,434.83 355.95,430.9 356.21,427 356.47,423.17 356.73,419.48 356.99,415.97 357.25,412.69 357.51,409.68 357.77,406.98 358.03,404.64 358.28,402.67 358.54,401.12 358.8,399.99 359.06,399.31 359.32,399.08 359.58,399.42 359.83,400.44 360.09,402.12 360.35,404.42 360.6,407.28 360.86,410.65 361.12,414.44 361.37,418.58 361.63,422.97 361.89,427.51 362.14,432.1 362.4,436.64 362.66,441.03 362.91,445.17 363.17,448.96 363.43,452.33 363.68,455.19 363.94,457.49 364.2,459.17 364.45,460.19 364.71,460.53 364.97,459.84 365.23,457.81 365.49,454.53 365.75,450.17 366.01,444.95 366.27,439.13 366.53,433.01 366.79,426.88 367.05,421.07 367.31,415.85 367.57,411.49 367.83,408.21 368.09,406.18 368.35,405.49 368.6,405.87 368.86,407.01 369.11,408.88 369.37,411.44 369.62,414.61 369.88,418.33 370.13,422.5 370.39,427.02 370.64,431.78 370.9,436.65 371.15,441.53 371.41,446.28 371.66,450.8 371.92,454.97 372.17,458.69 372.43,461.86 372.68,464.42 372.94,466.29 373.19,467.43 373.45,467.82 373.7,467.43 373.96,466.3 374.21,464.44 374.47,461.91 374.72,458.75 374.98,455.06 375.23,450.92 375.49,446.43 375.74,441.71 376,436.87 376.25,432.03 376.5,427.31 376.76,422.82 377.01,418.68 377.27,414.99 377.52,411.83 377.78,409.3 378.03,407.44 378.29,406.3 378.54,405.92 378.8,406.88 379.06,409.68 379.32,414.13 379.58,419.94 379.83,426.7 380.09,433.96 380.35,441.21 380.61,447.97 380.87,453.78 381.12,458.23 381.38,461.04 381.64,461.99 381.9,461.5 382.15,460.05 382.41,457.68 382.67,454.48 382.93,450.56 383.18,446.05 383.44,441.1 383.7,435.88 383.95,430.57 384.21,425.36 384.47,420.41 384.72,415.9 384.98,411.97 385.24,408.77 385.5,406.41 385.75,404.96 386.01,404.47 386.28,404.75 386.56,405.57 386.83,406.83 387.11,408.38 387.39,410.02 387.66,411.57 387.94,412.82 388.21,413.65 388.49,413.93 388.75,413.74 389.02,413.18 389.28,412.3 389.54,411.17 389.81,409.87 390.07,408.53 390.34,407.23 390.6,406.1 390.87,405.22 391.13,404.66 391.4,404.47 391.65,405.02 391.91,406.67 392.16,409.34 392.42,412.93 392.67,417.31 392.93,422.31 393.18,427.73 393.44,433.37 393.69,439.01 393.95,444.44 394.2,449.43 394.46,453.81 394.71,457.41 394.97,460.08 395.22,461.73 395.48,462.28 395.74,461.25 396.01,458.21 396.28,453.39 396.54,447.1 396.81,439.78 397.08,431.92 397.34,424.06 397.61,416.74 397.88,410.45 398.15,405.62 398.41,402.59 398.68,401.55 398.94,402.36 399.2,404.73 399.46,408.54 399.72,413.62 399.98,419.69 400.24,426.46 400.5,433.59 400.76,440.72 401.02,447.49 401.28,453.57 401.54,458.64 401.8,462.46 402.06,464.83 402.32,465.63 402.58,464.7 402.84,461.96 403.09,457.57 403.35,451.79 403.61,444.95 403.87,437.45 404.12,429.73 404.38,422.23 404.64,415.39 404.9,409.61 405.15,405.22 405.41,402.48 405.67,401.55 405.93,402.42 406.19,404.97 406.44,409.06 406.7,414.45 406.96,420.82 407.22,427.81 407.47,435.01 407.73,441.99 407.99,448.37 408.25,453.75 408.5,457.84 408.76,460.39 409.02,461.26 409.27,460.87 409.53,459.72 409.78,457.83 410.04,455.24 410.29,452.03 410.55,448.27 410.8,444.05 411.06,439.48 411.31,434.67 411.57,429.73 411.82,424.8 412.08,419.99 412.33,415.42 412.59,411.2 412.84,407.44 413.1,404.23 413.35,401.64 413.61,399.75 413.86,398.59 414.12,398.2 414.37,398.54 414.63,399.54 414.89,401.18 415.14,403.43 415.4,406.23 415.66,409.53 415.91,413.24 416.17,417.29 416.43,421.58 416.68,426.03 416.94,430.52 417.2,434.97 417.45,439.26 417.71,443.31 417.97,447.03 418.22,450.32 418.48,453.12 418.74,455.37 418.99,457.01 419.25,458.01 419.5,458.35 419.76,457.98 420.01,456.86 420.27,455.04 420.52,452.55 420.78,449.46 421.03,445.83 421.29,441.77 421.54,437.37 421.8,432.74 422.05,427.99 422.31,423.24 422.56,418.6 422.82,414.2 423.07,410.14 423.33,406.51 423.58,403.42 423.84,400.93 424.09,399.11 424.35,398 424.6,397.62 424.86,398 425.11,399.13 425.37,400.97 425.62,403.49 425.88,406.62 426.13,410.29 426.39,414.4 426.64,418.85 426.9,423.54 427.15,428.35 427.41,433.16 427.66,437.85 427.92,442.3 428.17,446.41 428.42,450.08 428.68,453.21 428.93,455.73 429.19,457.57 429.44,458.7 429.7,459.08 429.96,458.66 430.23,457.41 430.49,455.37 430.75,452.6 431.02,449.19 431.28,445.24 431.55,440.87 431.81,436.21 432.07,431.41 432.34,426.6 432.6,421.94 432.86,417.57 433.13,413.62 433.39,410.21 433.66,407.44 433.92,405.41 434.18,404.16 434.45,403.74 434.72,403.86 434.98,404.22 435.25,404.8 435.52,405.56 435.79,406.46 436.06,407.45 436.33,408.47 436.6,409.46 436.87,410.36 437.14,411.12 437.4,411.7 437.67,412.06 437.94,412.18 438.2,412.18 438.46,412.18 438.71,412.18 438.97,412.18 439.23,412.18 439.48,412.18 439.74,412.18 440,412.08 440.25,411.63 440.51,410.86 440.77,409.85 441.03,408.7 441.28,407.54 441.54,406.48 441.8,405.64 442.05,405.09 442.31,404.9 442.57,405.44 442.82,407.02 443.08,409.59 443.33,413.05 443.58,417.26 443.84,422.07 444.09,427.29 444.35,432.72 444.6,438.14 444.86,443.36 445.11,448.17 445.37,452.39 445.62,455.85 445.88,458.42 446.13,460 446.39,460.53 446.64,460.19 446.9,459.16 447.15,457.48 447.41,455.18 447.66,452.32 447.92,448.98 448.17,445.23 448.43,441.16 448.68,436.89 448.94,432.5 449.19,428.11 449.45,423.84 449.7,419.77 449.96,416.02 450.21,412.68 450.47,409.82 450.72,407.52 450.98,405.84 451.23,404.81 451.49,404.47 451.74,404.67 452,405.24 452.26,406.14 452.51,407.26 452.77,408.49 453.03,409.71 453.28,410.78 453.54,411.6 453.8,412.08 454.06,412.18 454.31,412.18 454.57,412.18 454.83,412.18 455.08,412.18 455.34,412.18 455.6,412.18 455.85,412.18 456.12,412.1 456.38,411.83 456.64,411.41 456.9,410.84 457.17,410.15 457.43,409.37 457.69,408.53 457.95,407.68 458.21,406.85 458.48,406.07 458.74,405.38 459,404.81 459.26,404.38 459.52,404.12 459.79,404.03 460.04,404.5 460.3,405.91 460.56,408.21 460.81,411.31 461.07,415.11 461.33,419.49 461.59,424.29 461.84,429.34 462.1,434.49 462.36,439.55 462.61,444.35 462.87,448.72 463.13,452.53 463.38,455.63 463.64,457.92 463.9,459.33 464.16,459.81 464.42,459.46 464.68,458.45 464.94,456.78 465.2,454.49 465.46,451.64 465.72,448.28 465.99,444.5 466.25,440.38 466.51,436.01 466.77,431.49 467.03,426.92 467.29,422.39 467.56,418.02 467.82,413.9 468.08,410.12 468.34,406.77 468.6,403.92 468.86,401.63 469.12,399.96 469.39,398.94"/>
<text x="168.8" y="540.7" font-family='"Liberation Sans","DejaVu Sans",sans-serif' font-size="9.4" text-anchor="start" fill="#161616">c.</text>
<text x="242.7" y="540.7" font-family='"Liberation Sans","DejaVu Sans",sans-serif' font-size="9.4" text-anchor="start" fill="#161616" textLength="77.8" lengthAdjust="spacingAndGlyphs">BPSK I/Q Samples</text>
</svg>
</body></html>
